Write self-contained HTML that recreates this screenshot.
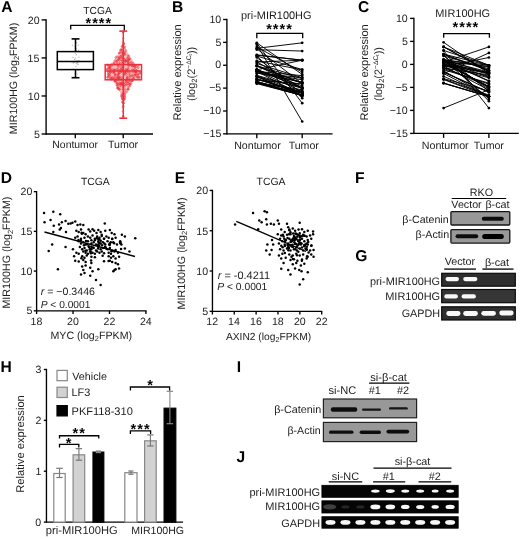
<!DOCTYPE html>
<html><head><meta charset="utf-8"><style>
html,body{margin:0;padding:0;background:#fff;}
svg{display:block;text-rendering:geometricPrecision;font-family:"Liberation Sans",Arial,Helvetica,sans-serif;}
</style></head><body>
<svg width="520" height="539" viewBox="0 0 520 539">
<defs><filter id="b1" x="-30%" y="-200%" width="160%" height="500%"><feGaussianBlur stdDeviation="0.7"/></filter>
<filter id="b2" x="-30%" y="-200%" width="160%" height="500%"><feGaussianBlur stdDeviation="0.45"/></filter></defs>
<rect width="520" height="539" fill="#fff"/>
<text x="1.15" y="12.02" font-size="15.6" font-weight="bold" fill="#000">A</text>
<text x="171.96" y="12.17" font-size="15.6" font-weight="bold" fill="#000">B</text>
<text x="358.01" y="12.02" font-size="15.6" font-weight="bold" fill="#000">C</text>
<line x1="46.10" y1="19.24" x2="46.10" y2="134.65" stroke="#000" stroke-width="1.35" />
<line x1="46.10" y1="134.00" x2="153.00" y2="134.00" stroke="#000" stroke-width="1.35" />
<line x1="41.60" y1="19.89" x2="46.10" y2="19.89" stroke="#000" stroke-width="1.35" />
<text x="27.76" y="24.00" font-size="10.60" fill="#1c1c1c">20</text>
<line x1="41.60" y1="57.93" x2="46.10" y2="57.93" stroke="#000" stroke-width="1.35" />
<text x="27.56" y="62.00" font-size="10.60" fill="#1c1c1c">15</text>
<line x1="41.60" y1="95.97" x2="46.10" y2="95.97" stroke="#000" stroke-width="1.35" />
<text x="27.76" y="100.00" font-size="10.60" fill="#1c1c1c">10</text>
<line x1="41.60" y1="134.00" x2="46.10" y2="134.00" stroke="#000" stroke-width="1.35" />
<text x="33.89" y="138.00" font-size="10.60" fill="#1c1c1c">5</text>
<line x1="75.30" y1="134.00" x2="75.30" y2="138.30" stroke="#000" stroke-width="1.35" />
<line x1="123.20" y1="134.00" x2="123.20" y2="138.30" stroke="#000" stroke-width="1.35" />
<text x="52.37" y="148.00" font-size="10.40" fill="#1c1c1c">Nontumor</text>
<text x="107.94" y="148.00" font-size="10.60" fill="#1c1c1c">Tumor</text>
<text transform="translate(16.67,134.15) rotate(-90)" font-size="10.66" fill="#1c1c1c">MIR100HG (log<tspan font-size="7.46" dy="2.13">2</tspan><tspan dy="-2.13">FPKM)</tspan></text>
<text x="83.29" y="14.00" font-size="10.25" fill="#1c1c1c">TCGA</text>
<text x="98.85" y="27.50" font-size="14.6" font-weight="bold" letter-spacing="1.0" text-anchor="middle" fill="#000">****</text>
<polyline points="70.70,29.60 70.70,25.30 124.30,25.30 124.30,30.80" fill="none" stroke="#000" stroke-width="1.3"/>
<circle cx="74.59" cy="59.35" r="0.55" fill="#999" />
<circle cx="76.23" cy="48.80" r="0.55" fill="#999" />
<circle cx="72.09" cy="62.58" r="0.55" fill="#999" />
<circle cx="77.86" cy="62.60" r="0.55" fill="#999" />
<circle cx="78.97" cy="60.60" r="0.55" fill="#999" />
<circle cx="75.29" cy="53.55" r="0.55" fill="#999" />
<circle cx="76.47" cy="54.84" r="0.55" fill="#999" />
<circle cx="73.05" cy="69.10" r="0.55" fill="#999" />
<circle cx="75.66" cy="72.37" r="0.55" fill="#999" />
<circle cx="77.19" cy="73.98" r="0.55" fill="#999" />
<circle cx="77.31" cy="61.79" r="0.55" fill="#999" />
<circle cx="76.14" cy="63.14" r="0.55" fill="#999" />
<circle cx="78.06" cy="60.94" r="0.55" fill="#999" />
<circle cx="75.31" cy="58.04" r="0.55" fill="#999" />
<circle cx="77.00" cy="63.86" r="0.55" fill="#999" />
<circle cx="78.45" cy="77.71" r="0.55" fill="#999" />
<circle cx="75.11" cy="73.17" r="0.55" fill="#999" />
<circle cx="78.55" cy="50.16" r="0.55" fill="#999" />
<circle cx="72.95" cy="57.22" r="0.55" fill="#999" />
<circle cx="73.52" cy="63.06" r="0.55" fill="#999" />
<circle cx="76.39" cy="50.67" r="0.55" fill="#999" />
<circle cx="74.11" cy="62.32" r="0.55" fill="#999" />
<circle cx="74.46" cy="69.22" r="0.55" fill="#999" />
<circle cx="76.10" cy="60.62" r="0.55" fill="#999" />
<circle cx="76.77" cy="77.28" r="0.55" fill="#999" />
<circle cx="78.50" cy="70.20" r="0.55" fill="#999" />
<circle cx="76.70" cy="42.85" r="0.55" fill="#999" />
<circle cx="73.14" cy="77.71" r="0.55" fill="#999" />
<circle cx="78.33" cy="45.10" r="0.55" fill="#999" />
<circle cx="75.98" cy="77.71" r="0.55" fill="#999" />
<circle cx="77.82" cy="61.63" r="0.55" fill="#999" />
<circle cx="76.01" cy="66.34" r="0.55" fill="#999" />
<circle cx="77.98" cy="60.93" r="0.55" fill="#999" />
<circle cx="78.93" cy="56.99" r="0.55" fill="#999" />
<circle cx="74.87" cy="46.29" r="0.55" fill="#999" />
<circle cx="73.06" cy="51.56" r="0.55" fill="#999" />
<circle cx="78.11" cy="64.47" r="0.55" fill="#999" />
<circle cx="72.31" cy="45.18" r="0.55" fill="#999" />
<circle cx="77.03" cy="62.29" r="0.55" fill="#999" />
<circle cx="74.32" cy="62.04" r="0.55" fill="#999" />
<rect x="57.30" y="51.60" width="36.10" height="18.00" fill="none" stroke="#000" stroke-width="1.5" />
<line x1="57.30" y1="61.40" x2="93.40" y2="61.40" stroke="#000" stroke-width="1.5" />
<line x1="75.50" y1="38.90" x2="75.50" y2="51.60" stroke="#000" stroke-width="1.5" />
<line x1="75.50" y1="69.60" x2="75.50" y2="77.70" stroke="#000" stroke-width="1.5" />
<line x1="71.60" y1="38.90" x2="79.50" y2="38.90" stroke="#000" stroke-width="1.6" />
<line x1="71.60" y1="77.70" x2="79.50" y2="77.70" stroke="#000" stroke-width="1.6" />
<polygon points="123.02,31.20 123.01,31.70 123.00,32.20 122.99,32.70 122.97,33.20 122.96,33.70 122.95,34.20 122.93,34.70 122.92,35.20 122.91,35.70 122.90,36.20 122.88,36.70 122.87,37.20 122.86,37.70 122.85,38.20 122.83,38.70 122.82,39.20 122.81,39.70 122.79,40.20 122.78,40.70 122.77,41.20 122.76,41.70 122.71,42.20 122.62,42.70 122.52,43.20 122.43,43.70 122.33,44.20 122.24,44.70 122.14,45.20 121.99,45.70 121.80,46.20 121.61,46.70 121.42,47.20 121.23,47.70 121.03,48.20 120.84,48.70 120.65,49.20 120.46,49.70 120.27,50.20 120.08,50.70 119.75,51.20 119.43,51.70 119.10,52.20 118.77,52.70 118.44,53.20 118.12,53.70 117.79,54.20 117.46,54.70 117.13,55.20 116.81,55.70 116.47,56.20 116.12,56.70 115.78,57.20 115.43,57.70 115.09,58.20 114.74,58.70 114.40,59.20 114.05,59.70 113.71,60.20 113.42,60.70 113.15,61.20 112.87,61.70 112.60,62.20 112.33,62.70 112.05,63.20 111.78,63.70 111.50,64.20 109.68,64.70 107.20,65.20 107.20,65.70 107.20,66.20 107.20,66.70 107.20,67.20 107.20,67.70 107.20,68.20 107.20,68.70 107.20,69.20 107.20,69.70 107.20,70.20 107.20,70.70 107.20,71.20 107.20,71.70 107.20,72.20 107.20,72.70 107.20,73.20 107.20,73.70 107.20,74.20 107.20,74.70 107.20,75.20 107.20,75.70 107.20,76.20 107.20,76.70 107.20,77.20 107.20,77.70 107.20,78.20 107.20,78.70 107.20,79.20 109.59,79.70 113.32,80.20 113.66,80.70 114.01,81.20 114.35,81.70 114.65,82.20 114.86,82.70 115.08,83.20 115.30,83.70 115.51,84.20 115.73,84.70 115.95,85.20 116.17,85.70 116.38,86.20 116.60,86.70 116.82,87.20 117.11,87.70 117.42,88.20 117.73,88.70 118.04,89.20 118.35,89.70 118.66,90.20 118.97,90.70 119.28,91.20 119.58,91.70 119.89,92.20 120.13,92.70 120.26,93.20 120.39,93.70 120.52,94.20 120.65,94.70 120.78,95.20 120.91,95.70 121.04,96.20 121.17,96.70 121.30,97.20 121.43,97.70 121.54,98.20 121.64,98.70 121.74,99.20 121.84,99.70 121.94,100.20 122.04,100.70 122.13,101.20 122.19,101.70 122.26,102.20 122.32,102.70 122.39,103.20 122.45,103.70 122.52,104.20 122.58,104.70 122.64,105.20 122.71,105.70 122.75,106.20 122.76,106.70 122.78,107.20 122.79,107.70 122.80,108.20 122.81,108.70 122.82,109.20 122.83,109.70 122.84,110.20 122.86,110.70 122.87,111.20 122.88,111.70 122.89,112.20 122.90,112.70 122.91,113.20 122.93,113.70 122.94,114.20 122.95,114.70 122.96,115.20 122.97,115.70 122.98,116.20 122.99,116.70 123.01,117.20 123.02,117.70 123.02,118.20 123.58,118.20 123.58,117.70 123.59,117.20 123.61,116.70 123.62,116.20 123.63,115.70 123.64,115.20 123.65,114.70 123.66,114.20 123.67,113.70 123.69,113.20 123.70,112.70 123.71,112.20 123.72,111.70 123.73,111.20 123.74,110.70 123.76,110.20 123.77,109.70 123.78,109.20 123.79,108.70 123.80,108.20 123.81,107.70 123.82,107.20 123.84,106.70 123.85,106.20 123.89,105.70 123.96,105.20 124.02,104.70 124.08,104.20 124.15,103.70 124.21,103.20 124.28,102.70 124.34,102.20 124.41,101.70 124.47,101.20 124.56,100.70 124.66,100.20 124.76,99.70 124.86,99.20 124.96,98.70 125.06,98.20 125.17,97.70 125.30,97.20 125.43,96.70 125.56,96.20 125.69,95.70 125.82,95.20 125.95,94.70 126.08,94.20 126.21,93.70 126.34,93.20 126.47,92.70 126.71,92.20 127.02,91.70 127.32,91.20 127.63,90.70 127.94,90.20 128.25,89.70 128.56,89.20 128.87,88.70 129.18,88.20 129.49,87.70 129.78,87.20 130.00,86.70 130.22,86.20 130.43,85.70 130.65,85.20 130.87,84.70 131.09,84.20 131.30,83.70 131.52,83.20 131.74,82.70 131.95,82.20 132.25,81.70 132.59,81.20 132.94,80.70 133.28,80.20 137.01,79.70 139.40,79.20 139.40,78.70 139.40,78.20 139.40,77.70 139.40,77.20 139.40,76.70 139.40,76.20 139.40,75.70 139.40,75.20 139.40,74.70 139.40,74.20 139.40,73.70 139.40,73.20 139.40,72.70 139.40,72.20 139.40,71.70 139.40,71.20 139.40,70.70 139.40,70.20 139.40,69.70 139.40,69.20 139.40,68.70 139.40,68.20 139.40,67.70 139.40,67.20 139.40,66.70 139.40,66.20 139.40,65.70 139.40,65.20 136.92,64.70 135.10,64.20 134.82,63.70 134.55,63.20 134.27,62.70 134.00,62.20 133.73,61.70 133.45,61.20 133.18,60.70 132.89,60.20 132.55,59.70 132.20,59.20 131.86,58.70 131.51,58.20 131.17,57.70 130.82,57.20 130.48,56.70 130.13,56.20 129.79,55.70 129.47,55.20 129.14,54.70 128.81,54.20 128.48,53.70 128.16,53.20 127.83,52.70 127.50,52.20 127.17,51.70 126.85,51.20 126.52,50.70 126.33,50.20 126.14,49.70 125.95,49.20 125.76,48.70 125.57,48.20 125.37,47.70 125.18,47.20 124.99,46.70 124.80,46.20 124.61,45.70 124.46,45.20 124.36,44.70 124.27,44.20 124.17,43.70 124.08,43.20 123.98,42.70 123.89,42.20 123.84,41.70 123.83,41.20 123.82,40.70 123.81,40.20 123.79,39.70 123.78,39.20 123.77,38.70 123.75,38.20 123.74,37.70 123.73,37.20 123.72,36.70 123.70,36.20 123.69,35.70 123.68,35.20 123.67,34.70 123.65,34.20 123.64,33.70 123.63,33.20 123.61,32.70 123.60,32.20 123.59,31.70 123.58,31.20" fill="#f7bcbc" stroke="none"/>
<circle cx="122.44" cy="51.92" r="0.8" fill="none" stroke="#e8323c" stroke-width="0.5"/>
<circle cx="123.08" cy="44.91" r="0.8" fill="none" stroke="#e8323c" stroke-width="0.5"/>
<circle cx="112.42" cy="77.92" r="0.8" fill="none" stroke="#e8323c" stroke-width="0.5"/>
<circle cx="121.01" cy="67.31" r="0.8" fill="none" stroke="#e8323c" stroke-width="0.5"/>
<circle cx="122.27" cy="101.79" r="0.8" fill="none" stroke="#e8323c" stroke-width="0.5"/>
<circle cx="123.81" cy="85.68" r="0.8" fill="none" stroke="#e8323c" stroke-width="0.5"/>
<circle cx="139.83" cy="72.26" r="0.8" fill="none" stroke="#e8323c" stroke-width="0.5"/>
<circle cx="120.66" cy="84.73" r="0.8" fill="none" stroke="#e8323c" stroke-width="0.5"/>
<circle cx="122.46" cy="56.88" r="0.8" fill="none" stroke="#e8323c" stroke-width="0.5"/>
<circle cx="114.09" cy="62.88" r="0.8" fill="none" stroke="#e8323c" stroke-width="0.5"/>
<circle cx="120.77" cy="49.48" r="0.8" fill="none" stroke="#e8323c" stroke-width="0.5"/>
<circle cx="123.28" cy="44.44" r="0.8" fill="none" stroke="#e8323c" stroke-width="0.5"/>
<circle cx="120.87" cy="52.47" r="0.8" fill="none" stroke="#e8323c" stroke-width="0.5"/>
<circle cx="129.48" cy="77.17" r="0.8" fill="none" stroke="#e8323c" stroke-width="0.5"/>
<circle cx="127.58" cy="89.31" r="0.8" fill="none" stroke="#e8323c" stroke-width="0.5"/>
<circle cx="119.69" cy="89.21" r="0.8" fill="none" stroke="#e8323c" stroke-width="0.5"/>
<circle cx="126.01" cy="50.40" r="0.8" fill="none" stroke="#e8323c" stroke-width="0.5"/>
<circle cx="107.81" cy="77.03" r="0.8" fill="none" stroke="#e8323c" stroke-width="0.5"/>
<circle cx="132.86" cy="78.50" r="0.8" fill="none" stroke="#e8323c" stroke-width="0.5"/>
<circle cx="123.07" cy="58.42" r="0.8" fill="none" stroke="#e8323c" stroke-width="0.5"/>
<circle cx="124.61" cy="98.67" r="0.8" fill="none" stroke="#e8323c" stroke-width="0.5"/>
<circle cx="130.47" cy="78.64" r="0.8" fill="none" stroke="#e8323c" stroke-width="0.5"/>
<circle cx="114.84" cy="73.39" r="0.8" fill="none" stroke="#e8323c" stroke-width="0.5"/>
<circle cx="129.93" cy="84.22" r="0.8" fill="none" stroke="#e8323c" stroke-width="0.5"/>
<circle cx="132.31" cy="69.74" r="0.8" fill="none" stroke="#e8323c" stroke-width="0.5"/>
<circle cx="115.64" cy="57.50" r="0.8" fill="none" stroke="#e8323c" stroke-width="0.5"/>
<circle cx="136.50" cy="66.63" r="0.8" fill="none" stroke="#e8323c" stroke-width="0.5"/>
<circle cx="127.12" cy="78.23" r="0.8" fill="none" stroke="#e8323c" stroke-width="0.5"/>
<circle cx="116.82" cy="85.41" r="0.8" fill="none" stroke="#e8323c" stroke-width="0.5"/>
<circle cx="119.09" cy="58.51" r="0.8" fill="none" stroke="#e8323c" stroke-width="0.5"/>
<circle cx="109.89" cy="76.86" r="0.8" fill="none" stroke="#e8323c" stroke-width="0.5"/>
<circle cx="111.80" cy="79.28" r="0.8" fill="none" stroke="#e8323c" stroke-width="0.5"/>
<circle cx="135.32" cy="65.35" r="0.8" fill="none" stroke="#e8323c" stroke-width="0.5"/>
<circle cx="121.81" cy="59.91" r="0.8" fill="none" stroke="#e8323c" stroke-width="0.5"/>
<circle cx="125.52" cy="83.41" r="0.8" fill="none" stroke="#e8323c" stroke-width="0.5"/>
<circle cx="127.98" cy="62.04" r="0.8" fill="none" stroke="#e8323c" stroke-width="0.5"/>
<circle cx="126.55" cy="74.58" r="0.8" fill="none" stroke="#e8323c" stroke-width="0.5"/>
<circle cx="119.05" cy="53.11" r="0.8" fill="none" stroke="#e8323c" stroke-width="0.5"/>
<circle cx="126.93" cy="91.77" r="0.8" fill="none" stroke="#e8323c" stroke-width="0.5"/>
<circle cx="107.81" cy="65.10" r="0.8" fill="none" stroke="#e8323c" stroke-width="0.5"/>
<circle cx="107.27" cy="69.34" r="0.8" fill="none" stroke="#e8323c" stroke-width="0.5"/>
<circle cx="134.67" cy="66.72" r="0.8" fill="none" stroke="#e8323c" stroke-width="0.5"/>
<circle cx="118.00" cy="74.68" r="0.8" fill="none" stroke="#e8323c" stroke-width="0.5"/>
<circle cx="124.91" cy="93.63" r="0.8" fill="none" stroke="#e8323c" stroke-width="0.5"/>
<circle cx="118.72" cy="78.74" r="0.8" fill="none" stroke="#e8323c" stroke-width="0.5"/>
<circle cx="121.85" cy="97.11" r="0.8" fill="none" stroke="#e8323c" stroke-width="0.5"/>
<circle cx="125.70" cy="81.14" r="0.8" fill="none" stroke="#e8323c" stroke-width="0.5"/>
<circle cx="127.68" cy="61.26" r="0.8" fill="none" stroke="#e8323c" stroke-width="0.5"/>
<circle cx="121.44" cy="49.89" r="0.8" fill="none" stroke="#e8323c" stroke-width="0.5"/>
<circle cx="121.52" cy="71.61" r="0.8" fill="none" stroke="#e8323c" stroke-width="0.5"/>
<circle cx="123.77" cy="43.29" r="0.8" fill="none" stroke="#e8323c" stroke-width="0.5"/>
<circle cx="127.13" cy="77.08" r="0.8" fill="none" stroke="#e8323c" stroke-width="0.5"/>
<circle cx="122.94" cy="94.18" r="0.8" fill="none" stroke="#e8323c" stroke-width="0.5"/>
<circle cx="118.84" cy="78.00" r="0.8" fill="none" stroke="#e8323c" stroke-width="0.5"/>
<circle cx="136.04" cy="72.26" r="0.8" fill="none" stroke="#e8323c" stroke-width="0.5"/>
<circle cx="128.75" cy="83.13" r="0.8" fill="none" stroke="#e8323c" stroke-width="0.5"/>
<circle cx="123.02" cy="54.26" r="0.8" fill="none" stroke="#e8323c" stroke-width="0.5"/>
<circle cx="129.65" cy="72.37" r="0.8" fill="none" stroke="#e8323c" stroke-width="0.5"/>
<circle cx="123.01" cy="117.88" r="0.8" fill="none" stroke="#e8323c" stroke-width="0.5"/>
<circle cx="127.97" cy="68.18" r="0.8" fill="none" stroke="#e8323c" stroke-width="0.5"/>
<circle cx="129.61" cy="75.67" r="0.8" fill="none" stroke="#e8323c" stroke-width="0.5"/>
<circle cx="125.10" cy="60.86" r="0.8" fill="none" stroke="#e8323c" stroke-width="0.5"/>
<circle cx="116.79" cy="78.66" r="0.8" fill="none" stroke="#e8323c" stroke-width="0.5"/>
<circle cx="114.91" cy="76.89" r="0.8" fill="none" stroke="#e8323c" stroke-width="0.5"/>
<circle cx="123.04" cy="85.55" r="0.8" fill="none" stroke="#e8323c" stroke-width="0.5"/>
<circle cx="119.64" cy="60.28" r="0.8" fill="none" stroke="#e8323c" stroke-width="0.5"/>
<circle cx="118.67" cy="57.46" r="0.8" fill="none" stroke="#e8323c" stroke-width="0.5"/>
<circle cx="118.93" cy="73.37" r="0.8" fill="none" stroke="#e8323c" stroke-width="0.5"/>
<circle cx="115.33" cy="79.58" r="0.8" fill="none" stroke="#e8323c" stroke-width="0.5"/>
<circle cx="127.12" cy="61.18" r="0.8" fill="none" stroke="#e8323c" stroke-width="0.5"/>
<circle cx="119.56" cy="65.44" r="0.8" fill="none" stroke="#e8323c" stroke-width="0.5"/>
<circle cx="122.04" cy="49.73" r="0.8" fill="none" stroke="#e8323c" stroke-width="0.5"/>
<circle cx="123.12" cy="52.09" r="0.8" fill="none" stroke="#e8323c" stroke-width="0.5"/>
<circle cx="134.75" cy="68.00" r="0.8" fill="none" stroke="#e8323c" stroke-width="0.5"/>
<circle cx="125.52" cy="85.27" r="0.8" fill="none" stroke="#e8323c" stroke-width="0.5"/>
<circle cx="124.90" cy="46.73" r="0.8" fill="none" stroke="#e8323c" stroke-width="0.5"/>
<circle cx="114.78" cy="81.18" r="0.8" fill="none" stroke="#e8323c" stroke-width="0.5"/>
<circle cx="122.26" cy="46.56" r="0.8" fill="none" stroke="#e8323c" stroke-width="0.5"/>
<circle cx="119.80" cy="86.43" r="0.8" fill="none" stroke="#e8323c" stroke-width="0.5"/>
<circle cx="109.01" cy="73.84" r="0.8" fill="none" stroke="#e8323c" stroke-width="0.5"/>
<circle cx="126.14" cy="80.42" r="0.8" fill="none" stroke="#e8323c" stroke-width="0.5"/>
<circle cx="122.05" cy="54.87" r="0.8" fill="none" stroke="#e8323c" stroke-width="0.5"/>
<circle cx="128.31" cy="65.27" r="0.8" fill="none" stroke="#e8323c" stroke-width="0.5"/>
<circle cx="129.37" cy="84.53" r="0.8" fill="none" stroke="#e8323c" stroke-width="0.5"/>
<circle cx="116.86" cy="78.27" r="0.8" fill="none" stroke="#e8323c" stroke-width="0.5"/>
<circle cx="123.16" cy="83.29" r="0.8" fill="none" stroke="#e8323c" stroke-width="0.5"/>
<circle cx="117.51" cy="60.37" r="0.8" fill="none" stroke="#e8323c" stroke-width="0.5"/>
<circle cx="112.38" cy="77.31" r="0.8" fill="none" stroke="#e8323c" stroke-width="0.5"/>
<circle cx="125.05" cy="54.00" r="0.8" fill="none" stroke="#e8323c" stroke-width="0.5"/>
<circle cx="126.99" cy="78.68" r="0.8" fill="none" stroke="#e8323c" stroke-width="0.5"/>
<circle cx="124.63" cy="91.67" r="0.8" fill="none" stroke="#e8323c" stroke-width="0.5"/>
<circle cx="118.26" cy="67.74" r="0.8" fill="none" stroke="#e8323c" stroke-width="0.5"/>
<circle cx="122.35" cy="65.08" r="0.8" fill="none" stroke="#e8323c" stroke-width="0.5"/>
<circle cx="133.04" cy="69.96" r="0.8" fill="none" stroke="#e8323c" stroke-width="0.5"/>
<circle cx="123.65" cy="103.04" r="0.8" fill="none" stroke="#e8323c" stroke-width="0.5"/>
<circle cx="123.24" cy="116.16" r="0.8" fill="none" stroke="#e8323c" stroke-width="0.5"/>
<circle cx="122.98" cy="111.44" r="0.8" fill="none" stroke="#e8323c" stroke-width="0.5"/>
<circle cx="122.80" cy="46.29" r="0.8" fill="none" stroke="#e8323c" stroke-width="0.5"/>
<circle cx="110.05" cy="68.47" r="0.8" fill="none" stroke="#e8323c" stroke-width="0.5"/>
<circle cx="130.24" cy="81.16" r="0.8" fill="none" stroke="#e8323c" stroke-width="0.5"/>
<circle cx="118.31" cy="76.02" r="0.8" fill="none" stroke="#e8323c" stroke-width="0.5"/>
<circle cx="128.26" cy="69.63" r="0.8" fill="none" stroke="#e8323c" stroke-width="0.5"/>
<circle cx="131.42" cy="64.91" r="0.8" fill="none" stroke="#e8323c" stroke-width="0.5"/>
<circle cx="125.73" cy="60.44" r="0.8" fill="none" stroke="#e8323c" stroke-width="0.5"/>
<circle cx="125.64" cy="61.53" r="0.8" fill="none" stroke="#e8323c" stroke-width="0.5"/>
<circle cx="123.46" cy="70.31" r="0.8" fill="none" stroke="#e8323c" stroke-width="0.5"/>
<circle cx="121.63" cy="83.90" r="0.8" fill="none" stroke="#e8323c" stroke-width="0.5"/>
<circle cx="118.20" cy="71.99" r="0.8" fill="none" stroke="#e8323c" stroke-width="0.5"/>
<circle cx="124.61" cy="62.93" r="0.8" fill="none" stroke="#e8323c" stroke-width="0.5"/>
<circle cx="121.52" cy="79.63" r="0.8" fill="none" stroke="#e8323c" stroke-width="0.5"/>
<circle cx="110.99" cy="69.46" r="0.8" fill="none" stroke="#e8323c" stroke-width="0.5"/>
<circle cx="133.10" cy="78.49" r="0.8" fill="none" stroke="#e8323c" stroke-width="0.5"/>
<circle cx="123.31" cy="105.70" r="0.8" fill="none" stroke="#e8323c" stroke-width="0.5"/>
<circle cx="136.51" cy="72.01" r="0.8" fill="none" stroke="#e8323c" stroke-width="0.5"/>
<circle cx="117.24" cy="88.13" r="0.8" fill="none" stroke="#e8323c" stroke-width="0.5"/>
<circle cx="123.81" cy="87.50" r="0.8" fill="none" stroke="#e8323c" stroke-width="0.5"/>
<circle cx="123.04" cy="99.56" r="0.8" fill="none" stroke="#e8323c" stroke-width="0.5"/>
<circle cx="134.81" cy="75.25" r="0.8" fill="none" stroke="#e8323c" stroke-width="0.5"/>
<circle cx="123.91" cy="73.91" r="0.8" fill="none" stroke="#e8323c" stroke-width="0.5"/>
<circle cx="135.40" cy="65.71" r="0.8" fill="none" stroke="#e8323c" stroke-width="0.5"/>
<circle cx="110.54" cy="70.13" r="0.8" fill="none" stroke="#e8323c" stroke-width="0.5"/>
<circle cx="125.63" cy="73.05" r="0.8" fill="none" stroke="#e8323c" stroke-width="0.5"/>
<circle cx="129.44" cy="80.02" r="0.8" fill="none" stroke="#e8323c" stroke-width="0.5"/>
<circle cx="135.51" cy="70.79" r="0.8" fill="none" stroke="#e8323c" stroke-width="0.5"/>
<circle cx="118.24" cy="77.09" r="0.8" fill="none" stroke="#e8323c" stroke-width="0.5"/>
<circle cx="118.95" cy="58.85" r="0.8" fill="none" stroke="#e8323c" stroke-width="0.5"/>
<circle cx="121.18" cy="69.01" r="0.8" fill="none" stroke="#e8323c" stroke-width="0.5"/>
<circle cx="110.98" cy="77.65" r="0.8" fill="none" stroke="#e8323c" stroke-width="0.5"/>
<circle cx="121.04" cy="83.96" r="0.8" fill="none" stroke="#e8323c" stroke-width="0.5"/>
<circle cx="114.39" cy="78.74" r="0.8" fill="none" stroke="#e8323c" stroke-width="0.5"/>
<circle cx="124.57" cy="54.60" r="0.8" fill="none" stroke="#e8323c" stroke-width="0.5"/>
<circle cx="122.51" cy="102.49" r="0.8" fill="none" stroke="#e8323c" stroke-width="0.5"/>
<circle cx="125.96" cy="71.36" r="0.8" fill="none" stroke="#e8323c" stroke-width="0.5"/>
<circle cx="114.10" cy="72.07" r="0.8" fill="none" stroke="#e8323c" stroke-width="0.5"/>
<circle cx="121.88" cy="46.42" r="0.8" fill="none" stroke="#e8323c" stroke-width="0.5"/>
<circle cx="131.95" cy="75.70" r="0.8" fill="none" stroke="#e8323c" stroke-width="0.5"/>
<circle cx="132.84" cy="72.57" r="0.8" fill="none" stroke="#e8323c" stroke-width="0.5"/>
<circle cx="113.91" cy="70.02" r="0.8" fill="none" stroke="#e8323c" stroke-width="0.5"/>
<circle cx="131.59" cy="65.58" r="0.8" fill="none" stroke="#e8323c" stroke-width="0.5"/>
<circle cx="132.73" cy="80.70" r="0.8" fill="none" stroke="#e8323c" stroke-width="0.5"/>
<circle cx="137.85" cy="75.10" r="0.8" fill="none" stroke="#e8323c" stroke-width="0.5"/>
<circle cx="138.34" cy="67.60" r="0.8" fill="none" stroke="#e8323c" stroke-width="0.5"/>
<circle cx="122.73" cy="89.17" r="0.8" fill="none" stroke="#e8323c" stroke-width="0.5"/>
<circle cx="118.72" cy="77.18" r="0.8" fill="none" stroke="#e8323c" stroke-width="0.5"/>
<circle cx="139.72" cy="77.24" r="0.8" fill="none" stroke="#e8323c" stroke-width="0.5"/>
<circle cx="134.17" cy="76.98" r="0.8" fill="none" stroke="#e8323c" stroke-width="0.5"/>
<circle cx="139.90" cy="72.98" r="0.8" fill="none" stroke="#e8323c" stroke-width="0.5"/>
<circle cx="122.93" cy="41.84" r="0.8" fill="none" stroke="#e8323c" stroke-width="0.5"/>
<circle cx="116.70" cy="56.69" r="0.8" fill="none" stroke="#e8323c" stroke-width="0.5"/>
<circle cx="114.78" cy="74.91" r="0.8" fill="none" stroke="#e8323c" stroke-width="0.5"/>
<circle cx="123.17" cy="70.92" r="0.8" fill="none" stroke="#e8323c" stroke-width="0.5"/>
<circle cx="130.74" cy="63.28" r="0.8" fill="none" stroke="#e8323c" stroke-width="0.5"/>
<circle cx="123.79" cy="98.84" r="0.8" fill="none" stroke="#e8323c" stroke-width="0.5"/>
<circle cx="138.00" cy="73.89" r="0.8" fill="none" stroke="#e8323c" stroke-width="0.5"/>
<circle cx="128.68" cy="59.45" r="0.8" fill="none" stroke="#e8323c" stroke-width="0.5"/>
<circle cx="125.08" cy="97.22" r="0.8" fill="none" stroke="#e8323c" stroke-width="0.5"/>
<circle cx="135.96" cy="74.52" r="0.8" fill="none" stroke="#e8323c" stroke-width="0.5"/>
<circle cx="121.07" cy="71.40" r="0.8" fill="none" stroke="#e8323c" stroke-width="0.5"/>
<circle cx="122.45" cy="63.22" r="0.8" fill="none" stroke="#e8323c" stroke-width="0.5"/>
<circle cx="129.38" cy="58.85" r="0.8" fill="none" stroke="#e8323c" stroke-width="0.5"/>
<circle cx="128.81" cy="56.03" r="0.8" fill="none" stroke="#e8323c" stroke-width="0.5"/>
<circle cx="124.51" cy="84.90" r="0.8" fill="none" stroke="#e8323c" stroke-width="0.5"/>
<circle cx="118.56" cy="88.58" r="0.8" fill="none" stroke="#e8323c" stroke-width="0.5"/>
<circle cx="117.99" cy="83.82" r="0.8" fill="none" stroke="#e8323c" stroke-width="0.5"/>
<circle cx="110.59" cy="72.06" r="0.8" fill="none" stroke="#e8323c" stroke-width="0.5"/>
<circle cx="133.86" cy="66.11" r="0.8" fill="none" stroke="#e8323c" stroke-width="0.5"/>
<circle cx="138.98" cy="78.80" r="0.8" fill="none" stroke="#e8323c" stroke-width="0.5"/>
<circle cx="122.60" cy="77.99" r="0.8" fill="none" stroke="#e8323c" stroke-width="0.5"/>
<circle cx="122.09" cy="98.91" r="0.8" fill="none" stroke="#e8323c" stroke-width="0.5"/>
<circle cx="107.37" cy="77.39" r="0.8" fill="none" stroke="#e8323c" stroke-width="0.5"/>
<circle cx="109.28" cy="67.46" r="0.8" fill="none" stroke="#e8323c" stroke-width="0.5"/>
<circle cx="117.98" cy="88.13" r="0.8" fill="none" stroke="#e8323c" stroke-width="0.5"/>
<circle cx="110.17" cy="79.05" r="0.8" fill="none" stroke="#e8323c" stroke-width="0.5"/>
<circle cx="118.31" cy="89.13" r="0.8" fill="none" stroke="#e8323c" stroke-width="0.5"/>
<circle cx="125.06" cy="95.82" r="0.8" fill="none" stroke="#e8323c" stroke-width="0.5"/>
<circle cx="113.73" cy="72.38" r="0.8" fill="none" stroke="#e8323c" stroke-width="0.5"/>
<circle cx="114.39" cy="79.72" r="0.8" fill="none" stroke="#e8323c" stroke-width="0.5"/>
<circle cx="127.39" cy="58.20" r="0.8" fill="none" stroke="#e8323c" stroke-width="0.5"/>
<circle cx="128.45" cy="81.59" r="0.8" fill="none" stroke="#e8323c" stroke-width="0.5"/>
<circle cx="122.47" cy="69.84" r="0.8" fill="none" stroke="#e8323c" stroke-width="0.5"/>
<circle cx="119.65" cy="62.74" r="0.8" fill="none" stroke="#e8323c" stroke-width="0.5"/>
<circle cx="127.59" cy="77.40" r="0.8" fill="none" stroke="#e8323c" stroke-width="0.5"/>
<circle cx="131.37" cy="62.32" r="0.8" fill="none" stroke="#e8323c" stroke-width="0.5"/>
<circle cx="126.69" cy="70.01" r="0.8" fill="none" stroke="#e8323c" stroke-width="0.5"/>
<circle cx="118.78" cy="79.55" r="0.8" fill="none" stroke="#e8323c" stroke-width="0.5"/>
<circle cx="132.93" cy="65.56" r="0.8" fill="none" stroke="#e8323c" stroke-width="0.5"/>
<circle cx="135.03" cy="74.64" r="0.8" fill="none" stroke="#e8323c" stroke-width="0.5"/>
<circle cx="123.21" cy="84.86" r="0.8" fill="none" stroke="#e8323c" stroke-width="0.5"/>
<circle cx="123.09" cy="67.67" r="0.8" fill="none" stroke="#e8323c" stroke-width="0.5"/>
<circle cx="127.18" cy="69.57" r="0.8" fill="none" stroke="#e8323c" stroke-width="0.5"/>
<circle cx="124.85" cy="59.47" r="0.8" fill="none" stroke="#e8323c" stroke-width="0.5"/>
<circle cx="131.93" cy="80.80" r="0.8" fill="none" stroke="#e8323c" stroke-width="0.5"/>
<circle cx="127.40" cy="81.78" r="0.8" fill="none" stroke="#e8323c" stroke-width="0.5"/>
<circle cx="108.93" cy="68.42" r="0.8" fill="none" stroke="#e8323c" stroke-width="0.5"/>
<circle cx="108.11" cy="74.22" r="0.8" fill="none" stroke="#e8323c" stroke-width="0.5"/>
<circle cx="130.26" cy="85.86" r="0.8" fill="none" stroke="#e8323c" stroke-width="0.5"/>
<circle cx="123.39" cy="116.13" r="0.8" fill="none" stroke="#e8323c" stroke-width="0.5"/>
<circle cx="108.61" cy="74.83" r="0.8" fill="none" stroke="#e8323c" stroke-width="0.5"/>
<circle cx="128.04" cy="72.20" r="0.8" fill="none" stroke="#e8323c" stroke-width="0.5"/>
<circle cx="124.11" cy="94.10" r="0.8" fill="none" stroke="#e8323c" stroke-width="0.5"/>
<circle cx="122.37" cy="97.66" r="0.8" fill="none" stroke="#e8323c" stroke-width="0.5"/>
<circle cx="119.70" cy="83.75" r="0.8" fill="none" stroke="#e8323c" stroke-width="0.5"/>
<circle cx="133.50" cy="78.44" r="0.8" fill="none" stroke="#e8323c" stroke-width="0.5"/>
<circle cx="128.49" cy="87.01" r="0.8" fill="none" stroke="#e8323c" stroke-width="0.5"/>
<circle cx="122.38" cy="82.06" r="0.8" fill="none" stroke="#e8323c" stroke-width="0.5"/>
<circle cx="139.05" cy="65.04" r="0.8" fill="none" stroke="#e8323c" stroke-width="0.5"/>
<circle cx="125.01" cy="51.93" r="0.8" fill="none" stroke="#e8323c" stroke-width="0.5"/>
<circle cx="115.65" cy="81.04" r="0.8" fill="none" stroke="#e8323c" stroke-width="0.5"/>
<circle cx="114.83" cy="69.51" r="0.8" fill="none" stroke="#e8323c" stroke-width="0.5"/>
<circle cx="128.07" cy="63.93" r="0.8" fill="none" stroke="#e8323c" stroke-width="0.5"/>
<circle cx="114.61" cy="81.40" r="0.8" fill="none" stroke="#e8323c" stroke-width="0.5"/>
<circle cx="127.89" cy="57.86" r="0.8" fill="none" stroke="#e8323c" stroke-width="0.5"/>
<circle cx="124.33" cy="48.09" r="0.8" fill="none" stroke="#e8323c" stroke-width="0.5"/>
<circle cx="113.75" cy="77.95" r="0.8" fill="none" stroke="#e8323c" stroke-width="0.5"/>
<circle cx="113.99" cy="63.61" r="0.8" fill="none" stroke="#e8323c" stroke-width="0.5"/>
<circle cx="106.95" cy="68.78" r="0.8" fill="none" stroke="#e8323c" stroke-width="0.5"/>
<circle cx="122.83" cy="86.10" r="0.8" fill="none" stroke="#e8323c" stroke-width="0.5"/>
<circle cx="136.91" cy="76.67" r="0.8" fill="none" stroke="#e8323c" stroke-width="0.5"/>
<circle cx="117.77" cy="65.03" r="0.8" fill="none" stroke="#e8323c" stroke-width="0.5"/>
<circle cx="124.11" cy="43.59" r="0.8" fill="none" stroke="#e8323c" stroke-width="0.5"/>
<circle cx="133.21" cy="63.29" r="0.8" fill="none" stroke="#e8323c" stroke-width="0.5"/>
<circle cx="127.25" cy="71.49" r="0.8" fill="none" stroke="#e8323c" stroke-width="0.5"/>
<circle cx="118.15" cy="59.84" r="0.8" fill="none" stroke="#e8323c" stroke-width="0.5"/>
<circle cx="109.83" cy="67.05" r="0.8" fill="none" stroke="#e8323c" stroke-width="0.5"/>
<circle cx="108.48" cy="76.20" r="0.8" fill="none" stroke="#e8323c" stroke-width="0.5"/>
<circle cx="129.65" cy="58.76" r="0.8" fill="none" stroke="#e8323c" stroke-width="0.5"/>
<circle cx="126.91" cy="84.73" r="0.8" fill="none" stroke="#e8323c" stroke-width="0.5"/>
<circle cx="124.70" cy="72.90" r="0.8" fill="none" stroke="#e8323c" stroke-width="0.5"/>
<circle cx="122.68" cy="92.99" r="0.8" fill="none" stroke="#e8323c" stroke-width="0.5"/>
<circle cx="125.51" cy="69.31" r="0.8" fill="none" stroke="#e8323c" stroke-width="0.5"/>
<circle cx="116.76" cy="69.36" r="0.8" fill="none" stroke="#e8323c" stroke-width="0.5"/>
<circle cx="116.47" cy="61.99" r="0.8" fill="none" stroke="#e8323c" stroke-width="0.5"/>
<circle cx="131.93" cy="81.25" r="0.8" fill="none" stroke="#e8323c" stroke-width="0.5"/>
<circle cx="137.57" cy="77.06" r="0.8" fill="none" stroke="#e8323c" stroke-width="0.5"/>
<circle cx="116.56" cy="82.95" r="0.8" fill="none" stroke="#e8323c" stroke-width="0.5"/>
<circle cx="121.31" cy="82.83" r="0.8" fill="none" stroke="#e8323c" stroke-width="0.5"/>
<circle cx="122.27" cy="60.96" r="0.8" fill="none" stroke="#e8323c" stroke-width="0.5"/>
<circle cx="110.19" cy="72.59" r="0.8" fill="none" stroke="#e8323c" stroke-width="0.5"/>
<circle cx="124.84" cy="71.65" r="0.8" fill="none" stroke="#e8323c" stroke-width="0.5"/>
<circle cx="125.47" cy="73.13" r="0.8" fill="none" stroke="#e8323c" stroke-width="0.5"/>
<circle cx="128.78" cy="64.21" r="0.8" fill="none" stroke="#e8323c" stroke-width="0.5"/>
<circle cx="114.96" cy="70.29" r="0.8" fill="none" stroke="#e8323c" stroke-width="0.5"/>
<circle cx="121.70" cy="84.65" r="0.8" fill="none" stroke="#e8323c" stroke-width="0.5"/>
<circle cx="125.92" cy="60.89" r="0.8" fill="none" stroke="#e8323c" stroke-width="0.5"/>
<circle cx="136.63" cy="70.42" r="0.8" fill="none" stroke="#e8323c" stroke-width="0.5"/>
<circle cx="123.78" cy="58.81" r="0.8" fill="none" stroke="#e8323c" stroke-width="0.5"/>
<circle cx="123.41" cy="95.53" r="0.8" fill="none" stroke="#e8323c" stroke-width="0.5"/>
<circle cx="121.57" cy="94.87" r="0.8" fill="none" stroke="#e8323c" stroke-width="0.5"/>
<circle cx="129.40" cy="74.08" r="0.8" fill="none" stroke="#e8323c" stroke-width="0.5"/>
<circle cx="124.33" cy="75.10" r="0.8" fill="none" stroke="#e8323c" stroke-width="0.5"/>
<circle cx="119.13" cy="57.60" r="0.8" fill="none" stroke="#e8323c" stroke-width="0.5"/>
<circle cx="119.53" cy="70.51" r="0.8" fill="none" stroke="#e8323c" stroke-width="0.5"/>
<circle cx="131.04" cy="75.77" r="0.8" fill="none" stroke="#e8323c" stroke-width="0.5"/>
<circle cx="120.44" cy="56.30" r="0.8" fill="none" stroke="#e8323c" stroke-width="0.5"/>
<circle cx="116.23" cy="74.72" r="0.8" fill="none" stroke="#e8323c" stroke-width="0.5"/>
<circle cx="135.73" cy="74.52" r="0.8" fill="none" stroke="#e8323c" stroke-width="0.5"/>
<circle cx="126.34" cy="80.09" r="0.8" fill="none" stroke="#e8323c" stroke-width="0.5"/>
<circle cx="123.00" cy="66.33" r="0.8" fill="none" stroke="#e8323c" stroke-width="0.5"/>
<circle cx="119.87" cy="83.99" r="0.8" fill="none" stroke="#e8323c" stroke-width="0.5"/>
<circle cx="123.06" cy="107.59" r="0.8" fill="none" stroke="#e8323c" stroke-width="0.5"/>
<circle cx="128.50" cy="88.98" r="0.8" fill="none" stroke="#e8323c" stroke-width="0.5"/>
<circle cx="109.98" cy="66.82" r="0.8" fill="none" stroke="#e8323c" stroke-width="0.5"/>
<circle cx="123.16" cy="32.65" r="0.8" fill="none" stroke="#e8323c" stroke-width="0.5"/>
<circle cx="127.45" cy="83.57" r="0.8" fill="none" stroke="#e8323c" stroke-width="0.5"/>
<circle cx="112.07" cy="79.22" r="0.8" fill="none" stroke="#e8323c" stroke-width="0.5"/>
<circle cx="108.40" cy="72.25" r="0.8" fill="none" stroke="#e8323c" stroke-width="0.5"/>
<circle cx="120.36" cy="79.32" r="0.8" fill="none" stroke="#e8323c" stroke-width="0.5"/>
<circle cx="118.29" cy="74.73" r="0.8" fill="none" stroke="#e8323c" stroke-width="0.5"/>
<circle cx="128.31" cy="59.79" r="0.8" fill="none" stroke="#e8323c" stroke-width="0.5"/>
<circle cx="119.37" cy="64.08" r="0.8" fill="none" stroke="#e8323c" stroke-width="0.5"/>
<circle cx="127.49" cy="79.31" r="0.8" fill="none" stroke="#e8323c" stroke-width="0.5"/>
<circle cx="121.20" cy="96.19" r="0.8" fill="none" stroke="#e8323c" stroke-width="0.5"/>
<circle cx="124.26" cy="53.24" r="0.8" fill="none" stroke="#e8323c" stroke-width="0.5"/>
<circle cx="112.88" cy="72.53" r="0.8" fill="none" stroke="#e8323c" stroke-width="0.5"/>
<circle cx="128.67" cy="62.29" r="0.8" fill="none" stroke="#e8323c" stroke-width="0.5"/>
<circle cx="135.51" cy="69.69" r="0.8" fill="none" stroke="#e8323c" stroke-width="0.5"/>
<circle cx="122.59" cy="95.09" r="0.8" fill="none" stroke="#e8323c" stroke-width="0.5"/>
<circle cx="122.45" cy="63.12" r="0.8" fill="none" stroke="#e8323c" stroke-width="0.5"/>
<circle cx="117.06" cy="77.15" r="0.8" fill="none" stroke="#e8323c" stroke-width="0.5"/>
<circle cx="119.82" cy="82.62" r="0.8" fill="none" stroke="#e8323c" stroke-width="0.5"/>
<circle cx="110.54" cy="66.86" r="0.8" fill="none" stroke="#e8323c" stroke-width="0.5"/>
<circle cx="109.56" cy="65.30" r="0.8" fill="none" stroke="#e8323c" stroke-width="0.5"/>
<circle cx="125.73" cy="70.74" r="0.8" fill="none" stroke="#e8323c" stroke-width="0.5"/>
<circle cx="126.08" cy="82.18" r="0.8" fill="none" stroke="#e8323c" stroke-width="0.5"/>
<circle cx="119.97" cy="76.82" r="0.8" fill="none" stroke="#e8323c" stroke-width="0.5"/>
<circle cx="109.62" cy="70.49" r="0.8" fill="none" stroke="#e8323c" stroke-width="0.5"/>
<circle cx="119.59" cy="52.86" r="0.8" fill="none" stroke="#e8323c" stroke-width="0.5"/>
<circle cx="127.65" cy="79.34" r="0.8" fill="none" stroke="#e8323c" stroke-width="0.5"/>
<circle cx="117.44" cy="85.26" r="0.8" fill="none" stroke="#e8323c" stroke-width="0.5"/>
<circle cx="110.43" cy="72.13" r="0.8" fill="none" stroke="#e8323c" stroke-width="0.5"/>
<circle cx="128.72" cy="65.14" r="0.8" fill="none" stroke="#e8323c" stroke-width="0.5"/>
<circle cx="108.44" cy="65.46" r="0.8" fill="none" stroke="#e8323c" stroke-width="0.5"/>
<circle cx="116.23" cy="80.76" r="0.8" fill="none" stroke="#e8323c" stroke-width="0.5"/>
<circle cx="115.03" cy="74.92" r="0.8" fill="none" stroke="#e8323c" stroke-width="0.5"/>
<circle cx="122.92" cy="53.87" r="0.8" fill="none" stroke="#e8323c" stroke-width="0.5"/>
<circle cx="111.37" cy="64.42" r="0.8" fill="none" stroke="#e8323c" stroke-width="0.5"/>
<circle cx="108.89" cy="68.17" r="0.8" fill="none" stroke="#e8323c" stroke-width="0.5"/>
<circle cx="123.30" cy="106.62" r="0.8" fill="none" stroke="#e8323c" stroke-width="0.5"/>
<circle cx="109.88" cy="75.12" r="0.8" fill="none" stroke="#e8323c" stroke-width="0.5"/>
<circle cx="123.39" cy="82.63" r="0.8" fill="none" stroke="#e8323c" stroke-width="0.5"/>
<circle cx="117.14" cy="63.30" r="0.8" fill="none" stroke="#e8323c" stroke-width="0.5"/>
<circle cx="137.51" cy="77.06" r="0.8" fill="none" stroke="#e8323c" stroke-width="0.5"/>
<circle cx="135.98" cy="65.10" r="0.8" fill="none" stroke="#e8323c" stroke-width="0.5"/>
<circle cx="130.27" cy="83.89" r="0.8" fill="none" stroke="#e8323c" stroke-width="0.5"/>
<circle cx="123.11" cy="32.02" r="0.8" fill="none" stroke="#e8323c" stroke-width="0.5"/>
<circle cx="111.25" cy="79.11" r="0.8" fill="none" stroke="#e8323c" stroke-width="0.5"/>
<circle cx="139.80" cy="73.78" r="0.8" fill="none" stroke="#e8323c" stroke-width="0.5"/>
<circle cx="131.24" cy="83.56" r="0.8" fill="none" stroke="#e8323c" stroke-width="0.5"/>
<circle cx="134.89" cy="71.98" r="0.8" fill="none" stroke="#e8323c" stroke-width="0.5"/>
<circle cx="121.32" cy="77.65" r="0.8" fill="none" stroke="#e8323c" stroke-width="0.5"/>
<circle cx="112.68" cy="69.37" r="0.8" fill="none" stroke="#e8323c" stroke-width="0.5"/>
<circle cx="120.60" cy="70.80" r="0.8" fill="none" stroke="#e8323c" stroke-width="0.5"/>
<circle cx="120.59" cy="72.02" r="0.8" fill="none" stroke="#e8323c" stroke-width="0.5"/>
<circle cx="128.49" cy="89.41" r="0.8" fill="none" stroke="#e8323c" stroke-width="0.5"/>
<circle cx="116.73" cy="60.96" r="0.8" fill="none" stroke="#e8323c" stroke-width="0.5"/>
<circle cx="133.02" cy="75.48" r="0.8" fill="none" stroke="#e8323c" stroke-width="0.5"/>
<circle cx="127.88" cy="55.70" r="0.8" fill="none" stroke="#e8323c" stroke-width="0.5"/>
<circle cx="129.35" cy="59.89" r="0.8" fill="none" stroke="#e8323c" stroke-width="0.5"/>
<circle cx="112.07" cy="65.53" r="0.8" fill="none" stroke="#e8323c" stroke-width="0.5"/>
<circle cx="135.79" cy="72.37" r="0.8" fill="none" stroke="#e8323c" stroke-width="0.5"/>
<circle cx="132.38" cy="66.37" r="0.8" fill="none" stroke="#e8323c" stroke-width="0.5"/>
<circle cx="113.48" cy="71.48" r="0.8" fill="none" stroke="#e8323c" stroke-width="0.5"/>
<circle cx="119.05" cy="77.88" r="0.8" fill="none" stroke="#e8323c" stroke-width="0.5"/>
<circle cx="117.64" cy="69.70" r="0.8" fill="none" stroke="#e8323c" stroke-width="0.5"/>
<circle cx="119.45" cy="72.86" r="0.8" fill="none" stroke="#e8323c" stroke-width="0.5"/>
<circle cx="123.23" cy="38.51" r="0.8" fill="none" stroke="#e8323c" stroke-width="0.5"/>
<circle cx="122.98" cy="83.33" r="0.8" fill="none" stroke="#e8323c" stroke-width="0.5"/>
<circle cx="126.09" cy="60.43" r="0.8" fill="none" stroke="#e8323c" stroke-width="0.5"/>
<circle cx="118.94" cy="73.61" r="0.8" fill="none" stroke="#e8323c" stroke-width="0.5"/>
<circle cx="133.84" cy="70.39" r="0.8" fill="none" stroke="#e8323c" stroke-width="0.5"/>
<circle cx="133.47" cy="65.88" r="0.8" fill="none" stroke="#e8323c" stroke-width="0.5"/>
<circle cx="121.69" cy="57.72" r="0.8" fill="none" stroke="#e8323c" stroke-width="0.5"/>
<circle cx="121.90" cy="69.02" r="0.8" fill="none" stroke="#e8323c" stroke-width="0.5"/>
<circle cx="123.65" cy="103.15" r="0.8" fill="none" stroke="#e8323c" stroke-width="0.5"/>
<circle cx="115.32" cy="60.71" r="0.8" fill="none" stroke="#e8323c" stroke-width="0.5"/>
<circle cx="124.47" cy="99.59" r="0.8" fill="none" stroke="#e8323c" stroke-width="0.5"/>
<circle cx="129.17" cy="65.57" r="0.8" fill="none" stroke="#e8323c" stroke-width="0.5"/>
<circle cx="123.45" cy="53.55" r="0.8" fill="none" stroke="#e8323c" stroke-width="0.5"/>
<circle cx="120.40" cy="69.70" r="0.8" fill="none" stroke="#e8323c" stroke-width="0.5"/>
<circle cx="120.74" cy="56.21" r="0.8" fill="none" stroke="#e8323c" stroke-width="0.5"/>
<circle cx="135.67" cy="71.59" r="0.8" fill="none" stroke="#e8323c" stroke-width="0.5"/>
<circle cx="120.25" cy="50.65" r="0.8" fill="none" stroke="#e8323c" stroke-width="0.5"/>
<circle cx="118.18" cy="79.56" r="0.8" fill="none" stroke="#e8323c" stroke-width="0.5"/>
<circle cx="121.03" cy="83.96" r="0.8" fill="none" stroke="#e8323c" stroke-width="0.5"/>
<circle cx="125.14" cy="89.45" r="0.8" fill="none" stroke="#e8323c" stroke-width="0.5"/>
<circle cx="128.34" cy="63.91" r="0.8" fill="none" stroke="#e8323c" stroke-width="0.5"/>
<circle cx="122.96" cy="66.87" r="0.8" fill="none" stroke="#e8323c" stroke-width="0.5"/>
<circle cx="107.31" cy="65.09" r="0.8" fill="none" stroke="#e8323c" stroke-width="0.5"/>
<circle cx="117.99" cy="65.95" r="0.8" fill="none" stroke="#e8323c" stroke-width="0.5"/>
<circle cx="120.46" cy="57.80" r="0.8" fill="none" stroke="#e8323c" stroke-width="0.5"/>
<circle cx="119.38" cy="89.44" r="0.8" fill="none" stroke="#e8323c" stroke-width="0.5"/>
<circle cx="139.12" cy="76.83" r="0.8" fill="none" stroke="#e8323c" stroke-width="0.5"/>
<circle cx="117.73" cy="87.34" r="0.8" fill="none" stroke="#e8323c" stroke-width="0.5"/>
<circle cx="118.06" cy="84.56" r="0.8" fill="none" stroke="#e8323c" stroke-width="0.5"/>
<circle cx="116.87" cy="82.80" r="0.8" fill="none" stroke="#e8323c" stroke-width="0.5"/>
<rect x="105.20" y="64.60" width="36.30" height="15.20" fill="none" stroke="#e8323c" stroke-width="1.5" />
<line x1="105.20" y1="70.90" x2="141.50" y2="70.90" stroke="#e8323c" stroke-width="1.5" />
<line x1="123.30" y1="31.10" x2="123.30" y2="118.20" stroke="#e8323c" stroke-width="1.4" />
<line x1="119.30" y1="31.10" x2="127.20" y2="31.10" stroke="#e8323c" stroke-width="1.6" />
<line x1="119.30" y1="118.20" x2="127.20" y2="118.20" stroke="#e8323c" stroke-width="1.6" />
<line x1="226.90" y1="18.85" x2="226.90" y2="134.50" stroke="#000" stroke-width="1.35" />
<line x1="226.90" y1="133.85" x2="332.60" y2="133.85" stroke="#000" stroke-width="1.35" />
<line x1="223.10" y1="19.50" x2="226.90" y2="19.50" stroke="#000" stroke-width="1.35" />
<text x="209.46" y="23.00" font-size="10.60" fill="#1c1c1c">10</text>
<line x1="223.10" y1="42.37" x2="226.90" y2="42.37" stroke="#000" stroke-width="1.35" />
<text x="215.39" y="46.00" font-size="10.60" fill="#1c1c1c">5</text>
<line x1="223.10" y1="65.24" x2="226.90" y2="65.24" stroke="#000" stroke-width="1.35" />
<text x="215.29" y="68.00" font-size="10.60" fill="#1c1c1c">0</text>
<line x1="223.10" y1="88.11" x2="226.90" y2="88.11" stroke="#000" stroke-width="1.35" />
<text x="209.14" y="91.00" font-size="10.60" fill="#1c1c1c">−5</text>
<line x1="223.10" y1="110.98" x2="226.90" y2="110.98" stroke="#000" stroke-width="1.35" />
<text x="203.20" y="114.00" font-size="10.60" fill="#1c1c1c">−10</text>
<line x1="223.10" y1="133.85" x2="226.90" y2="133.85" stroke="#000" stroke-width="1.35" />
<text x="203.31" y="137.00" font-size="10.60" fill="#1c1c1c">−15</text>
<line x1="256.80" y1="133.85" x2="256.80" y2="138.35" stroke="#000" stroke-width="1.35" />
<line x1="302.20" y1="133.85" x2="302.20" y2="138.35" stroke="#000" stroke-width="1.35" />
<line x1="256.80" y1="71.25" x2="302.20" y2="95.43" stroke="#000" stroke-width="0.95" />
<line x1="256.80" y1="70.85" x2="302.20" y2="91.43" stroke="#000" stroke-width="0.95" />
<line x1="256.80" y1="69.58" x2="302.20" y2="87.79" stroke="#000" stroke-width="0.95" />
<line x1="256.80" y1="69.45" x2="302.20" y2="85.92" stroke="#000" stroke-width="0.95" />
<line x1="256.80" y1="65.89" x2="302.20" y2="78.64" stroke="#000" stroke-width="0.95" />
<line x1="256.80" y1="75.75" x2="302.20" y2="93.00" stroke="#000" stroke-width="0.95" />
<line x1="256.80" y1="82.17" x2="302.20" y2="91.26" stroke="#000" stroke-width="0.95" />
<line x1="256.80" y1="83.64" x2="302.20" y2="95.43" stroke="#000" stroke-width="0.95" />
<line x1="256.80" y1="55.26" x2="302.20" y2="60.21" stroke="#000" stroke-width="0.95" />
<line x1="256.80" y1="66.33" x2="302.20" y2="82.68" stroke="#000" stroke-width="0.95" />
<line x1="256.80" y1="80.15" x2="302.20" y2="83.83" stroke="#000" stroke-width="0.95" />
<line x1="256.80" y1="83.11" x2="302.20" y2="95.43" stroke="#000" stroke-width="0.95" />
<line x1="256.80" y1="79.17" x2="302.20" y2="92.79" stroke="#000" stroke-width="0.95" />
<line x1="256.80" y1="70.90" x2="302.20" y2="82.59" stroke="#000" stroke-width="0.95" />
<line x1="256.80" y1="71.61" x2="302.20" y2="79.87" stroke="#000" stroke-width="0.95" />
<line x1="256.80" y1="65.58" x2="302.20" y2="87.63" stroke="#000" stroke-width="0.95" />
<line x1="256.80" y1="69.82" x2="302.20" y2="88.30" stroke="#000" stroke-width="0.95" />
<line x1="256.80" y1="76.51" x2="302.20" y2="95.43" stroke="#000" stroke-width="0.95" />
<line x1="256.80" y1="54.79" x2="302.20" y2="60.21" stroke="#000" stroke-width="0.95" />
<line x1="256.80" y1="63.54" x2="302.20" y2="77.69" stroke="#000" stroke-width="0.95" />
<line x1="256.80" y1="75.39" x2="302.20" y2="88.25" stroke="#000" stroke-width="0.95" />
<line x1="256.80" y1="82.79" x2="302.20" y2="89.77" stroke="#000" stroke-width="0.95" />
<line x1="256.80" y1="61.78" x2="302.20" y2="88.42" stroke="#000" stroke-width="0.95" />
<line x1="256.80" y1="73.24" x2="302.20" y2="77.62" stroke="#000" stroke-width="0.95" />
<line x1="256.80" y1="55.99" x2="302.20" y2="69.55" stroke="#000" stroke-width="0.95" />
<line x1="256.80" y1="78.58" x2="302.20" y2="92.52" stroke="#000" stroke-width="0.95" />
<line x1="256.80" y1="57.43" x2="302.20" y2="93.82" stroke="#000" stroke-width="0.95" />
<line x1="256.80" y1="72.91" x2="302.20" y2="82.31" stroke="#000" stroke-width="0.95" />
<line x1="256.80" y1="82.70" x2="302.20" y2="95.43" stroke="#000" stroke-width="0.95" />
<line x1="256.80" y1="76.76" x2="302.20" y2="95.43" stroke="#000" stroke-width="0.95" />
<line x1="256.80" y1="82.28" x2="302.20" y2="95.43" stroke="#000" stroke-width="0.95" />
<line x1="256.80" y1="62.02" x2="302.20" y2="60.21" stroke="#000" stroke-width="0.95" />
<line x1="256.80" y1="81.35" x2="302.20" y2="94.98" stroke="#000" stroke-width="0.95" />
<line x1="256.80" y1="83.10" x2="302.20" y2="93.02" stroke="#000" stroke-width="0.95" />
<line x1="256.80" y1="60.85" x2="302.20" y2="69.94" stroke="#000" stroke-width="0.95" />
<line x1="256.80" y1="71.40" x2="302.20" y2="75.65" stroke="#000" stroke-width="0.95" />
<line x1="256.80" y1="79.15" x2="302.20" y2="93.37" stroke="#000" stroke-width="0.95" />
<line x1="256.80" y1="65.48" x2="302.20" y2="83.53" stroke="#000" stroke-width="0.95" />
<line x1="256.80" y1="81.39" x2="302.20" y2="95.43" stroke="#000" stroke-width="0.95" />
<line x1="256.80" y1="76.76" x2="302.20" y2="87.76" stroke="#000" stroke-width="0.95" />
<line x1="256.80" y1="48.32" x2="302.20" y2="42.83" stroke="#000" stroke-width="0.95" />
<line x1="256.80" y1="49.69" x2="302.20" y2="51.06" stroke="#000" stroke-width="0.95" />
<line x1="256.80" y1="44.66" x2="302.20" y2="121.50" stroke="#000" stroke-width="0.95" />
<line x1="256.80" y1="43.28" x2="302.20" y2="103.20" stroke="#000" stroke-width="0.95" />
<line x1="256.80" y1="56.09" x2="302.20" y2="98.17" stroke="#000" stroke-width="0.95" />
<line x1="256.80" y1="69.81" x2="302.20" y2="60.21" stroke="#000" stroke-width="0.95" />
<line x1="256.80" y1="42.83" x2="302.20" y2="74.39" stroke="#000" stroke-width="0.95" />
<line x1="256.80" y1="46.94" x2="302.20" y2="72.10" stroke="#000" stroke-width="0.95" />
<line x1="256.80" y1="48.77" x2="302.20" y2="83.54" stroke="#000" stroke-width="0.95" />
<circle cx="256.80" cy="71.25" r="1.35" fill="#000" />
<circle cx="302.20" cy="95.43" r="1.35" fill="#000" />
<circle cx="256.80" cy="70.85" r="1.35" fill="#000" />
<circle cx="302.20" cy="91.43" r="1.35" fill="#000" />
<circle cx="256.80" cy="69.58" r="1.35" fill="#000" />
<circle cx="302.20" cy="87.79" r="1.35" fill="#000" />
<circle cx="256.80" cy="69.45" r="1.35" fill="#000" />
<circle cx="302.20" cy="85.92" r="1.35" fill="#000" />
<circle cx="256.80" cy="65.89" r="1.35" fill="#000" />
<circle cx="302.20" cy="78.64" r="1.35" fill="#000" />
<circle cx="256.80" cy="75.75" r="1.35" fill="#000" />
<circle cx="302.20" cy="93.00" r="1.35" fill="#000" />
<circle cx="256.80" cy="82.17" r="1.35" fill="#000" />
<circle cx="302.20" cy="91.26" r="1.35" fill="#000" />
<circle cx="256.80" cy="83.64" r="1.35" fill="#000" />
<circle cx="302.20" cy="95.43" r="1.35" fill="#000" />
<circle cx="256.80" cy="55.26" r="1.35" fill="#000" />
<circle cx="302.20" cy="60.21" r="1.35" fill="#000" />
<circle cx="256.80" cy="66.33" r="1.35" fill="#000" />
<circle cx="302.20" cy="82.68" r="1.35" fill="#000" />
<circle cx="256.80" cy="80.15" r="1.35" fill="#000" />
<circle cx="302.20" cy="83.83" r="1.35" fill="#000" />
<circle cx="256.80" cy="83.11" r="1.35" fill="#000" />
<circle cx="302.20" cy="95.43" r="1.35" fill="#000" />
<circle cx="256.80" cy="79.17" r="1.35" fill="#000" />
<circle cx="302.20" cy="92.79" r="1.35" fill="#000" />
<circle cx="256.80" cy="70.90" r="1.35" fill="#000" />
<circle cx="302.20" cy="82.59" r="1.35" fill="#000" />
<circle cx="256.80" cy="71.61" r="1.35" fill="#000" />
<circle cx="302.20" cy="79.87" r="1.35" fill="#000" />
<circle cx="256.80" cy="65.58" r="1.35" fill="#000" />
<circle cx="302.20" cy="87.63" r="1.35" fill="#000" />
<circle cx="256.80" cy="69.82" r="1.35" fill="#000" />
<circle cx="302.20" cy="88.30" r="1.35" fill="#000" />
<circle cx="256.80" cy="76.51" r="1.35" fill="#000" />
<circle cx="302.20" cy="95.43" r="1.35" fill="#000" />
<circle cx="256.80" cy="54.79" r="1.35" fill="#000" />
<circle cx="302.20" cy="60.21" r="1.35" fill="#000" />
<circle cx="256.80" cy="63.54" r="1.35" fill="#000" />
<circle cx="302.20" cy="77.69" r="1.35" fill="#000" />
<circle cx="256.80" cy="75.39" r="1.35" fill="#000" />
<circle cx="302.20" cy="88.25" r="1.35" fill="#000" />
<circle cx="256.80" cy="82.79" r="1.35" fill="#000" />
<circle cx="302.20" cy="89.77" r="1.35" fill="#000" />
<circle cx="256.80" cy="61.78" r="1.35" fill="#000" />
<circle cx="302.20" cy="88.42" r="1.35" fill="#000" />
<circle cx="256.80" cy="73.24" r="1.35" fill="#000" />
<circle cx="302.20" cy="77.62" r="1.35" fill="#000" />
<circle cx="256.80" cy="55.99" r="1.35" fill="#000" />
<circle cx="302.20" cy="69.55" r="1.35" fill="#000" />
<circle cx="256.80" cy="78.58" r="1.35" fill="#000" />
<circle cx="302.20" cy="92.52" r="1.35" fill="#000" />
<circle cx="256.80" cy="57.43" r="1.35" fill="#000" />
<circle cx="302.20" cy="93.82" r="1.35" fill="#000" />
<circle cx="256.80" cy="72.91" r="1.35" fill="#000" />
<circle cx="302.20" cy="82.31" r="1.35" fill="#000" />
<circle cx="256.80" cy="82.70" r="1.35" fill="#000" />
<circle cx="302.20" cy="95.43" r="1.35" fill="#000" />
<circle cx="256.80" cy="76.76" r="1.35" fill="#000" />
<circle cx="302.20" cy="95.43" r="1.35" fill="#000" />
<circle cx="256.80" cy="82.28" r="1.35" fill="#000" />
<circle cx="302.20" cy="95.43" r="1.35" fill="#000" />
<circle cx="256.80" cy="62.02" r="1.35" fill="#000" />
<circle cx="302.20" cy="60.21" r="1.35" fill="#000" />
<circle cx="256.80" cy="81.35" r="1.35" fill="#000" />
<circle cx="302.20" cy="94.98" r="1.35" fill="#000" />
<circle cx="256.80" cy="83.10" r="1.35" fill="#000" />
<circle cx="302.20" cy="93.02" r="1.35" fill="#000" />
<circle cx="256.80" cy="60.85" r="1.35" fill="#000" />
<circle cx="302.20" cy="69.94" r="1.35" fill="#000" />
<circle cx="256.80" cy="71.40" r="1.35" fill="#000" />
<circle cx="302.20" cy="75.65" r="1.35" fill="#000" />
<circle cx="256.80" cy="79.15" r="1.35" fill="#000" />
<circle cx="302.20" cy="93.37" r="1.35" fill="#000" />
<circle cx="256.80" cy="65.48" r="1.35" fill="#000" />
<circle cx="302.20" cy="83.53" r="1.35" fill="#000" />
<circle cx="256.80" cy="81.39" r="1.35" fill="#000" />
<circle cx="302.20" cy="95.43" r="1.35" fill="#000" />
<circle cx="256.80" cy="76.76" r="1.35" fill="#000" />
<circle cx="302.20" cy="87.76" r="1.35" fill="#000" />
<circle cx="256.80" cy="48.32" r="1.35" fill="#000" />
<circle cx="302.20" cy="42.83" r="1.35" fill="#000" />
<circle cx="256.80" cy="49.69" r="1.35" fill="#000" />
<circle cx="302.20" cy="51.06" r="1.35" fill="#000" />
<circle cx="256.80" cy="44.66" r="1.35" fill="#000" />
<circle cx="302.20" cy="121.50" r="1.35" fill="#000" />
<circle cx="256.80" cy="43.28" r="1.35" fill="#000" />
<circle cx="302.20" cy="103.20" r="1.35" fill="#000" />
<circle cx="256.80" cy="56.09" r="1.35" fill="#000" />
<circle cx="302.20" cy="98.17" r="1.35" fill="#000" />
<circle cx="256.80" cy="69.81" r="1.35" fill="#000" />
<circle cx="302.20" cy="60.21" r="1.35" fill="#000" />
<circle cx="256.80" cy="42.83" r="1.35" fill="#000" />
<circle cx="302.20" cy="74.39" r="1.35" fill="#000" />
<circle cx="256.80" cy="46.94" r="1.35" fill="#000" />
<circle cx="302.20" cy="72.10" r="1.35" fill="#000" />
<circle cx="256.80" cy="48.77" r="1.35" fill="#000" />
<circle cx="302.20" cy="83.54" r="1.35" fill="#000" />
<text x="241.03" y="19.00" font-size="10.94" fill="#1c1c1c">pri-MIR100HG</text>
<text x="279.50" y="34.35" font-size="14.6" font-weight="bold" letter-spacing="1.0" text-anchor="middle" fill="#000">****</text>
<polyline points="256.80,38.20 256.80,33.40 302.70,33.40 302.70,38.20" fill="none" stroke="#000" stroke-width="1.3"/>
<text x="234.15" y="149.00" font-size="10.63" fill="#1c1c1c">Nontumor</text>
<text x="288.64" y="149.00" font-size="10.60" fill="#1c1c1c">Tumor</text>
<text transform="translate(181.09,120.38) rotate(-90)" font-size="11.03" fill="#1c1c1c">Relative expression</text>
<line x1="413.90" y1="17.75" x2="413.90" y2="134.05" stroke="#000" stroke-width="1.35" />
<line x1="413.90" y1="133.40" x2="518.80" y2="133.40" stroke="#000" stroke-width="1.35" />
<line x1="410.10" y1="18.40" x2="413.90" y2="18.40" stroke="#000" stroke-width="1.35" />
<text x="395.96" y="22.00" font-size="10.60" fill="#1c1c1c">10</text>
<line x1="410.10" y1="41.40" x2="413.90" y2="41.40" stroke="#000" stroke-width="1.35" />
<text x="401.89" y="45.00" font-size="10.60" fill="#1c1c1c">5</text>
<line x1="410.10" y1="64.40" x2="413.90" y2="64.40" stroke="#000" stroke-width="1.35" />
<text x="401.79" y="68.00" font-size="10.60" fill="#1c1c1c">0</text>
<line x1="410.10" y1="87.40" x2="413.90" y2="87.40" stroke="#000" stroke-width="1.35" />
<text x="395.64" y="91.00" font-size="10.60" fill="#1c1c1c">−5</text>
<line x1="410.10" y1="110.40" x2="413.90" y2="110.40" stroke="#000" stroke-width="1.35" />
<text x="389.70" y="114.00" font-size="10.60" fill="#1c1c1c">−10</text>
<line x1="410.10" y1="133.40" x2="413.90" y2="133.40" stroke="#000" stroke-width="1.35" />
<text x="389.81" y="137.00" font-size="10.60" fill="#1c1c1c">−15</text>
<line x1="443.60" y1="133.40" x2="443.60" y2="137.90" stroke="#000" stroke-width="1.35" />
<line x1="488.90" y1="133.40" x2="488.90" y2="137.90" stroke="#000" stroke-width="1.35" />
<line x1="443.60" y1="46.92" x2="488.90" y2="71.83" stroke="#000" stroke-width="0.95" />
<line x1="443.60" y1="60.33" x2="488.90" y2="77.46" stroke="#000" stroke-width="0.95" />
<line x1="443.60" y1="71.97" x2="488.90" y2="91.97" stroke="#000" stroke-width="0.95" />
<line x1="443.60" y1="68.49" x2="488.90" y2="84.13" stroke="#000" stroke-width="0.95" />
<line x1="443.60" y1="59.75" x2="488.90" y2="65.32" stroke="#000" stroke-width="0.95" />
<line x1="443.60" y1="61.55" x2="488.90" y2="66.30" stroke="#000" stroke-width="0.95" />
<line x1="443.60" y1="59.44" x2="488.90" y2="73.55" stroke="#000" stroke-width="0.95" />
<line x1="443.60" y1="65.99" x2="488.90" y2="90.03" stroke="#000" stroke-width="0.95" />
<line x1="443.60" y1="79.16" x2="488.90" y2="95.06" stroke="#000" stroke-width="0.95" />
<line x1="443.60" y1="65.58" x2="488.90" y2="77.85" stroke="#000" stroke-width="0.95" />
<line x1="443.60" y1="60.82" x2="488.90" y2="87.55" stroke="#000" stroke-width="0.95" />
<line x1="443.60" y1="70.84" x2="488.90" y2="96.29" stroke="#000" stroke-width="0.95" />
<line x1="443.60" y1="54.46" x2="488.90" y2="70.78" stroke="#000" stroke-width="0.95" />
<line x1="443.60" y1="62.91" x2="488.90" y2="86.44" stroke="#000" stroke-width="0.95" />
<line x1="443.60" y1="76.25" x2="488.90" y2="96.60" stroke="#000" stroke-width="0.95" />
<line x1="443.60" y1="65.09" x2="488.90" y2="76.23" stroke="#000" stroke-width="0.95" />
<line x1="443.60" y1="78.64" x2="488.90" y2="90.99" stroke="#000" stroke-width="0.95" />
<line x1="443.60" y1="72.34" x2="488.90" y2="92.46" stroke="#000" stroke-width="0.95" />
<line x1="443.60" y1="67.31" x2="488.90" y2="86.58" stroke="#000" stroke-width="0.95" />
<line x1="443.60" y1="59.77" x2="488.90" y2="67.17" stroke="#000" stroke-width="0.95" />
<line x1="443.60" y1="60.92" x2="488.90" y2="81.19" stroke="#000" stroke-width="0.95" />
<line x1="443.60" y1="60.17" x2="488.90" y2="72.13" stroke="#000" stroke-width="0.95" />
<line x1="443.60" y1="55.95" x2="488.90" y2="68.89" stroke="#000" stroke-width="0.95" />
<line x1="443.60" y1="79.55" x2="488.90" y2="96.60" stroke="#000" stroke-width="0.95" />
<line x1="443.60" y1="67.99" x2="488.90" y2="74.99" stroke="#000" stroke-width="0.95" />
<line x1="443.60" y1="65.45" x2="488.90" y2="72.56" stroke="#000" stroke-width="0.95" />
<line x1="443.60" y1="61.38" x2="488.90" y2="87.53" stroke="#000" stroke-width="0.95" />
<line x1="443.60" y1="63.72" x2="488.90" y2="74.07" stroke="#000" stroke-width="0.95" />
<line x1="443.60" y1="60.29" x2="488.90" y2="89.10" stroke="#000" stroke-width="0.95" />
<line x1="443.60" y1="60.10" x2="488.90" y2="80.80" stroke="#000" stroke-width="0.95" />
<line x1="443.60" y1="83.26" x2="488.90" y2="96.60" stroke="#000" stroke-width="0.95" />
<line x1="443.60" y1="82.94" x2="488.90" y2="96.60" stroke="#000" stroke-width="0.95" />
<line x1="443.60" y1="50.45" x2="488.90" y2="65.32" stroke="#000" stroke-width="0.95" />
<line x1="443.60" y1="54.07" x2="488.90" y2="65.50" stroke="#000" stroke-width="0.95" />
<line x1="443.60" y1="46.92" x2="488.90" y2="65.32" stroke="#000" stroke-width="0.95" />
<line x1="443.60" y1="73.50" x2="488.90" y2="96.60" stroke="#000" stroke-width="0.95" />
<line x1="443.60" y1="55.51" x2="488.90" y2="91.33" stroke="#000" stroke-width="0.95" />
<line x1="443.60" y1="83.26" x2="488.90" y2="96.60" stroke="#000" stroke-width="0.95" />
<line x1="443.60" y1="63.54" x2="488.90" y2="86.74" stroke="#000" stroke-width="0.95" />
<line x1="443.60" y1="54.20" x2="488.90" y2="70.36" stroke="#000" stroke-width="0.95" />
<line x1="443.60" y1="62.14" x2="488.90" y2="73.44" stroke="#000" stroke-width="0.95" />
<line x1="443.60" y1="69.73" x2="488.90" y2="83.15" stroke="#000" stroke-width="0.95" />
<line x1="443.60" y1="46.92" x2="488.90" y2="70.78" stroke="#000" stroke-width="0.95" />
<line x1="443.60" y1="62.52" x2="488.90" y2="73.04" stroke="#000" stroke-width="0.95" />
<line x1="443.60" y1="42.32" x2="488.90" y2="73.60" stroke="#000" stroke-width="0.95" />
<line x1="443.60" y1="62.10" x2="488.90" y2="46.92" stroke="#000" stroke-width="0.95" />
<line x1="443.60" y1="73.60" x2="488.90" y2="52.90" stroke="#000" stroke-width="0.95" />
<line x1="443.60" y1="66.70" x2="488.90" y2="57.50" stroke="#000" stroke-width="0.95" />
<line x1="443.60" y1="108.10" x2="488.90" y2="89.70" stroke="#000" stroke-width="0.95" />
<line x1="443.60" y1="50.60" x2="488.90" y2="108.10" stroke="#000" stroke-width="0.95" />
<line x1="443.60" y1="55.20" x2="488.90" y2="101.20" stroke="#000" stroke-width="0.95" />
<line x1="443.60" y1="59.80" x2="488.90" y2="98.90" stroke="#000" stroke-width="0.95" />
<circle cx="443.60" cy="46.92" r="1.35" fill="#000" />
<circle cx="488.90" cy="71.83" r="1.35" fill="#000" />
<circle cx="443.60" cy="60.33" r="1.35" fill="#000" />
<circle cx="488.90" cy="77.46" r="1.35" fill="#000" />
<circle cx="443.60" cy="71.97" r="1.35" fill="#000" />
<circle cx="488.90" cy="91.97" r="1.35" fill="#000" />
<circle cx="443.60" cy="68.49" r="1.35" fill="#000" />
<circle cx="488.90" cy="84.13" r="1.35" fill="#000" />
<circle cx="443.60" cy="59.75" r="1.35" fill="#000" />
<circle cx="488.90" cy="65.32" r="1.35" fill="#000" />
<circle cx="443.60" cy="61.55" r="1.35" fill="#000" />
<circle cx="488.90" cy="66.30" r="1.35" fill="#000" />
<circle cx="443.60" cy="59.44" r="1.35" fill="#000" />
<circle cx="488.90" cy="73.55" r="1.35" fill="#000" />
<circle cx="443.60" cy="65.99" r="1.35" fill="#000" />
<circle cx="488.90" cy="90.03" r="1.35" fill="#000" />
<circle cx="443.60" cy="79.16" r="1.35" fill="#000" />
<circle cx="488.90" cy="95.06" r="1.35" fill="#000" />
<circle cx="443.60" cy="65.58" r="1.35" fill="#000" />
<circle cx="488.90" cy="77.85" r="1.35" fill="#000" />
<circle cx="443.60" cy="60.82" r="1.35" fill="#000" />
<circle cx="488.90" cy="87.55" r="1.35" fill="#000" />
<circle cx="443.60" cy="70.84" r="1.35" fill="#000" />
<circle cx="488.90" cy="96.29" r="1.35" fill="#000" />
<circle cx="443.60" cy="54.46" r="1.35" fill="#000" />
<circle cx="488.90" cy="70.78" r="1.35" fill="#000" />
<circle cx="443.60" cy="62.91" r="1.35" fill="#000" />
<circle cx="488.90" cy="86.44" r="1.35" fill="#000" />
<circle cx="443.60" cy="76.25" r="1.35" fill="#000" />
<circle cx="488.90" cy="96.60" r="1.35" fill="#000" />
<circle cx="443.60" cy="65.09" r="1.35" fill="#000" />
<circle cx="488.90" cy="76.23" r="1.35" fill="#000" />
<circle cx="443.60" cy="78.64" r="1.35" fill="#000" />
<circle cx="488.90" cy="90.99" r="1.35" fill="#000" />
<circle cx="443.60" cy="72.34" r="1.35" fill="#000" />
<circle cx="488.90" cy="92.46" r="1.35" fill="#000" />
<circle cx="443.60" cy="67.31" r="1.35" fill="#000" />
<circle cx="488.90" cy="86.58" r="1.35" fill="#000" />
<circle cx="443.60" cy="59.77" r="1.35" fill="#000" />
<circle cx="488.90" cy="67.17" r="1.35" fill="#000" />
<circle cx="443.60" cy="60.92" r="1.35" fill="#000" />
<circle cx="488.90" cy="81.19" r="1.35" fill="#000" />
<circle cx="443.60" cy="60.17" r="1.35" fill="#000" />
<circle cx="488.90" cy="72.13" r="1.35" fill="#000" />
<circle cx="443.60" cy="55.95" r="1.35" fill="#000" />
<circle cx="488.90" cy="68.89" r="1.35" fill="#000" />
<circle cx="443.60" cy="79.55" r="1.35" fill="#000" />
<circle cx="488.90" cy="96.60" r="1.35" fill="#000" />
<circle cx="443.60" cy="67.99" r="1.35" fill="#000" />
<circle cx="488.90" cy="74.99" r="1.35" fill="#000" />
<circle cx="443.60" cy="65.45" r="1.35" fill="#000" />
<circle cx="488.90" cy="72.56" r="1.35" fill="#000" />
<circle cx="443.60" cy="61.38" r="1.35" fill="#000" />
<circle cx="488.90" cy="87.53" r="1.35" fill="#000" />
<circle cx="443.60" cy="63.72" r="1.35" fill="#000" />
<circle cx="488.90" cy="74.07" r="1.35" fill="#000" />
<circle cx="443.60" cy="60.29" r="1.35" fill="#000" />
<circle cx="488.90" cy="89.10" r="1.35" fill="#000" />
<circle cx="443.60" cy="60.10" r="1.35" fill="#000" />
<circle cx="488.90" cy="80.80" r="1.35" fill="#000" />
<circle cx="443.60" cy="83.26" r="1.35" fill="#000" />
<circle cx="488.90" cy="96.60" r="1.35" fill="#000" />
<circle cx="443.60" cy="82.94" r="1.35" fill="#000" />
<circle cx="488.90" cy="96.60" r="1.35" fill="#000" />
<circle cx="443.60" cy="50.45" r="1.35" fill="#000" />
<circle cx="488.90" cy="65.32" r="1.35" fill="#000" />
<circle cx="443.60" cy="54.07" r="1.35" fill="#000" />
<circle cx="488.90" cy="65.50" r="1.35" fill="#000" />
<circle cx="443.60" cy="46.92" r="1.35" fill="#000" />
<circle cx="488.90" cy="65.32" r="1.35" fill="#000" />
<circle cx="443.60" cy="73.50" r="1.35" fill="#000" />
<circle cx="488.90" cy="96.60" r="1.35" fill="#000" />
<circle cx="443.60" cy="55.51" r="1.35" fill="#000" />
<circle cx="488.90" cy="91.33" r="1.35" fill="#000" />
<circle cx="443.60" cy="83.26" r="1.35" fill="#000" />
<circle cx="488.90" cy="96.60" r="1.35" fill="#000" />
<circle cx="443.60" cy="63.54" r="1.35" fill="#000" />
<circle cx="488.90" cy="86.74" r="1.35" fill="#000" />
<circle cx="443.60" cy="54.20" r="1.35" fill="#000" />
<circle cx="488.90" cy="70.36" r="1.35" fill="#000" />
<circle cx="443.60" cy="62.14" r="1.35" fill="#000" />
<circle cx="488.90" cy="73.44" r="1.35" fill="#000" />
<circle cx="443.60" cy="69.73" r="1.35" fill="#000" />
<circle cx="488.90" cy="83.15" r="1.35" fill="#000" />
<circle cx="443.60" cy="46.92" r="1.35" fill="#000" />
<circle cx="488.90" cy="70.78" r="1.35" fill="#000" />
<circle cx="443.60" cy="62.52" r="1.35" fill="#000" />
<circle cx="488.90" cy="73.04" r="1.35" fill="#000" />
<circle cx="443.60" cy="42.32" r="1.35" fill="#000" />
<circle cx="488.90" cy="73.60" r="1.35" fill="#000" />
<circle cx="443.60" cy="62.10" r="1.35" fill="#000" />
<circle cx="488.90" cy="46.92" r="1.35" fill="#000" />
<circle cx="443.60" cy="73.60" r="1.35" fill="#000" />
<circle cx="488.90" cy="52.90" r="1.35" fill="#000" />
<circle cx="443.60" cy="66.70" r="1.35" fill="#000" />
<circle cx="488.90" cy="57.50" r="1.35" fill="#000" />
<circle cx="443.60" cy="108.10" r="1.35" fill="#000" />
<circle cx="488.90" cy="89.70" r="1.35" fill="#000" />
<circle cx="443.60" cy="50.60" r="1.35" fill="#000" />
<circle cx="488.90" cy="108.10" r="1.35" fill="#000" />
<circle cx="443.60" cy="55.20" r="1.35" fill="#000" />
<circle cx="488.90" cy="101.20" r="1.35" fill="#000" />
<circle cx="443.60" cy="59.80" r="1.35" fill="#000" />
<circle cx="488.90" cy="98.90" r="1.35" fill="#000" />
<text x="435.22" y="17.00" font-size="10.97" fill="#1c1c1c">MIR100HG</text>
<text x="465.90" y="32.00" font-size="14.6" font-weight="bold" letter-spacing="1.0" text-anchor="middle" fill="#000">****</text>
<polyline points="443.70,37.80 443.70,33.60 489.40,33.60 489.40,37.80" fill="none" stroke="#000" stroke-width="1.3"/>
<text x="421.74" y="149.00" font-size="10.70" fill="#1c1c1c">Nontumor</text>
<text x="473.69" y="149.00" font-size="10.60" fill="#1c1c1c">Tumor</text>
<text transform="translate(368.09,120.38) rotate(-90)" font-size="11.03" fill="#1c1c1c">Relative expression</text>
<text transform="translate(194.76,100.96) rotate(-90)" font-size="10.93" fill="#1c1c1c">(log<tspan font-size="7.65" dy="2.19">2</tspan><tspan dy="-2.19">(2</tspan><tspan font-size="6.78" dy="-4.15">−ΔC</tspan><tspan font-size="4.92" dy="1.31">t</tspan><tspan dy="2.84">))</tspan></text>
<text transform="translate(381.63,100.95) rotate(-90)" font-size="10.85" fill="#1c1c1c">(log<tspan font-size="7.59" dy="2.17">2</tspan><tspan dy="-2.17">(2</tspan><tspan font-size="6.73" dy="-4.12">−ΔC</tspan><tspan font-size="4.88" dy="1.30">t</tspan><tspan dy="2.82">))</tspan></text>
<text x="0.86" y="182.87" font-size="15.6" font-weight="bold" fill="#000">D</text>
<text x="80.89" y="185.00" font-size="10.40" fill="#1c1c1c">TCGA</text>
<line x1="36.60" y1="191.00" x2="36.60" y2="311.44" stroke="#000" stroke-width="1.35" />
<line x1="36.60" y1="310.80" x2="146.50" y2="310.80" stroke="#000" stroke-width="1.35" />
<line x1="33.80" y1="191.65" x2="36.60" y2="191.65" stroke="#000" stroke-width="1.35" />
<text x="20.56" y="195.00" font-size="10.60" fill="#1c1c1c">20</text>
<line x1="33.80" y1="231.37" x2="36.60" y2="231.37" stroke="#000" stroke-width="1.35" />
<text x="20.56" y="235.00" font-size="10.60" fill="#1c1c1c">15</text>
<line x1="33.80" y1="271.08" x2="36.60" y2="271.08" stroke="#000" stroke-width="1.35" />
<text x="20.56" y="275.00" font-size="10.60" fill="#1c1c1c">10</text>
<line x1="33.80" y1="310.80" x2="36.60" y2="310.80" stroke="#000" stroke-width="1.35" />
<text x="26.49" y="314.00" font-size="10.60" fill="#1c1c1c">5</text>
<line x1="36.60" y1="310.80" x2="36.60" y2="314.00" stroke="#000" stroke-width="1.35" />
<text x="30.51" y="325.00" font-size="10.60" fill="#1c1c1c">18</text>
<line x1="73.04" y1="310.80" x2="73.04" y2="314.00" stroke="#000" stroke-width="1.35" />
<text x="67.10" y="325.00" font-size="10.60" fill="#1c1c1c">20</text>
<line x1="109.48" y1="310.80" x2="109.48" y2="314.00" stroke="#000" stroke-width="1.35" />
<text x="103.60" y="325.00" font-size="10.60" fill="#1c1c1c">22</text>
<line x1="145.92" y1="310.80" x2="145.92" y2="314.00" stroke="#000" stroke-width="1.35" />
<text x="139.93" y="325.00" font-size="10.60" fill="#1c1c1c">24</text>
<text x="50.45" y="339.00" font-size="10.65" fill="#1c1c1c">MYC (log<tspan font-size="7.46" dy="2.13">2</tspan><tspan dy="-2.13">FPKM)</tspan></text>
<text transform="translate(10.39,308.56) rotate(-90)" font-size="10.72" fill="#1c1c1c">MIR100HG (log<tspan font-size="7.50" dy="2.14">2</tspan><tspan dy="-2.14">FPKM)</tspan></text>
<circle cx="44.08" cy="213.00" r="1.25" fill="#000" />
<circle cx="53.31" cy="211.85" r="1.25" fill="#000" />
<circle cx="60.23" cy="214.16" r="1.25" fill="#000" />
<circle cx="44.54" cy="222.23" r="1.25" fill="#000" />
<circle cx="50.54" cy="219.92" r="1.25" fill="#000" />
<circle cx="53.77" cy="225.69" r="1.25" fill="#000" />
<circle cx="59.08" cy="224.54" r="1.25" fill="#000" />
<circle cx="61.85" cy="222.23" r="1.25" fill="#000" />
<circle cx="65.54" cy="221.08" r="1.25" fill="#000" />
<circle cx="68.31" cy="223.85" r="1.25" fill="#000" />
<circle cx="70.62" cy="223.39" r="1.25" fill="#000" />
<circle cx="72.46" cy="222.69" r="1.25" fill="#000" />
<circle cx="75.23" cy="221.54" r="1.25" fill="#000" />
<circle cx="77.54" cy="225.00" r="1.25" fill="#000" />
<circle cx="80.31" cy="224.54" r="1.25" fill="#000" />
<circle cx="83.31" cy="225.00" r="1.25" fill="#000" />
<circle cx="104.77" cy="223.39" r="1.25" fill="#000" />
<circle cx="53.31" cy="231.93" r="1.25" fill="#000" />
<circle cx="59.77" cy="229.62" r="1.25" fill="#000" />
<circle cx="60.92" cy="228.00" r="1.25" fill="#000" />
<circle cx="66.00" cy="231.93" r="1.25" fill="#000" />
<circle cx="76.39" cy="230.77" r="1.25" fill="#000" />
<circle cx="78.70" cy="231.93" r="1.25" fill="#000" />
<circle cx="81.00" cy="229.62" r="1.25" fill="#000" />
<circle cx="83.31" cy="233.08" r="1.25" fill="#000" />
<circle cx="85.62" cy="234.23" r="1.25" fill="#000" />
<circle cx="88.62" cy="229.62" r="1.25" fill="#000" />
<circle cx="90.23" cy="231.46" r="1.25" fill="#000" />
<circle cx="92.54" cy="229.16" r="1.25" fill="#000" />
<circle cx="94.16" cy="230.77" r="1.25" fill="#000" />
<circle cx="96.47" cy="233.08" r="1.25" fill="#000" />
<circle cx="98.31" cy="230.08" r="1.25" fill="#000" />
<circle cx="100.62" cy="231.93" r="1.25" fill="#000" />
<circle cx="105.24" cy="230.77" r="1.25" fill="#000" />
<circle cx="109.85" cy="230.08" r="1.25" fill="#000" />
<circle cx="111.70" cy="233.08" r="1.25" fill="#000" />
<circle cx="114.47" cy="234.23" r="1.25" fill="#000" />
<circle cx="75.23" cy="237.70" r="1.25" fill="#000" />
<circle cx="77.54" cy="236.54" r="1.25" fill="#000" />
<circle cx="81.00" cy="238.85" r="1.25" fill="#000" />
<circle cx="84.47" cy="237.70" r="1.25" fill="#000" />
<circle cx="87.93" cy="236.54" r="1.25" fill="#000" />
<circle cx="90.23" cy="237.70" r="1.25" fill="#000" />
<circle cx="92.54" cy="235.39" r="1.25" fill="#000" />
<circle cx="94.85" cy="238.85" r="1.25" fill="#000" />
<circle cx="97.16" cy="236.54" r="1.25" fill="#000" />
<circle cx="99.47" cy="237.70" r="1.25" fill="#000" />
<circle cx="101.77" cy="236.08" r="1.25" fill="#000" />
<circle cx="104.08" cy="238.85" r="1.25" fill="#000" />
<circle cx="106.39" cy="236.54" r="1.25" fill="#000" />
<circle cx="108.70" cy="237.70" r="1.25" fill="#000" />
<circle cx="112.16" cy="238.85" r="1.25" fill="#000" />
<circle cx="115.62" cy="237.70" r="1.25" fill="#000" />
<circle cx="124.85" cy="236.54" r="1.25" fill="#000" />
<circle cx="135.24" cy="238.16" r="1.25" fill="#000" />
<circle cx="78.70" cy="241.16" r="1.25" fill="#000" />
<circle cx="81.00" cy="243.47" r="1.25" fill="#000" />
<circle cx="83.31" cy="242.31" r="1.25" fill="#000" />
<circle cx="85.62" cy="244.62" r="1.25" fill="#000" />
<circle cx="87.93" cy="241.16" r="1.25" fill="#000" />
<circle cx="91.39" cy="243.47" r="1.25" fill="#000" />
<circle cx="93.70" cy="242.31" r="1.25" fill="#000" />
<circle cx="96.00" cy="244.62" r="1.25" fill="#000" />
<circle cx="98.31" cy="241.16" r="1.25" fill="#000" />
<circle cx="100.62" cy="243.47" r="1.25" fill="#000" />
<circle cx="102.93" cy="242.31" r="1.25" fill="#000" />
<circle cx="105.24" cy="244.62" r="1.25" fill="#000" />
<circle cx="107.54" cy="241.16" r="1.25" fill="#000" />
<circle cx="109.85" cy="243.47" r="1.25" fill="#000" />
<circle cx="113.31" cy="242.31" r="1.25" fill="#000" />
<circle cx="120.24" cy="242.31" r="1.25" fill="#000" />
<circle cx="121.39" cy="244.62" r="1.25" fill="#000" />
<circle cx="52.16" cy="244.62" r="1.25" fill="#000" />
<circle cx="65.54" cy="246.93" r="1.25" fill="#000" />
<circle cx="72.93" cy="249.23" r="1.25" fill="#000" />
<circle cx="79.85" cy="246.93" r="1.25" fill="#000" />
<circle cx="82.16" cy="249.23" r="1.25" fill="#000" />
<circle cx="84.47" cy="248.08" r="1.25" fill="#000" />
<circle cx="86.77" cy="250.39" r="1.25" fill="#000" />
<circle cx="89.08" cy="246.93" r="1.25" fill="#000" />
<circle cx="91.39" cy="249.23" r="1.25" fill="#000" />
<circle cx="93.70" cy="248.08" r="1.25" fill="#000" />
<circle cx="96.00" cy="250.39" r="1.25" fill="#000" />
<circle cx="98.31" cy="246.93" r="1.25" fill="#000" />
<circle cx="100.62" cy="249.23" r="1.25" fill="#000" />
<circle cx="102.93" cy="248.08" r="1.25" fill="#000" />
<circle cx="105.24" cy="246.93" r="1.25" fill="#000" />
<circle cx="107.54" cy="249.23" r="1.25" fill="#000" />
<circle cx="109.85" cy="248.08" r="1.25" fill="#000" />
<circle cx="112.16" cy="250.39" r="1.25" fill="#000" />
<circle cx="115.62" cy="249.93" r="1.25" fill="#000" />
<circle cx="124.85" cy="248.54" r="1.25" fill="#000" />
<circle cx="129.47" cy="251.54" r="1.25" fill="#000" />
<circle cx="48.69" cy="251.08" r="1.25" fill="#000" />
<circle cx="76.39" cy="252.70" r="1.25" fill="#000" />
<circle cx="78.70" cy="253.85" r="1.25" fill="#000" />
<circle cx="83.31" cy="251.54" r="1.25" fill="#000" />
<circle cx="85.62" cy="252.70" r="1.25" fill="#000" />
<circle cx="87.93" cy="253.85" r="1.25" fill="#000" />
<circle cx="90.23" cy="251.54" r="1.25" fill="#000" />
<circle cx="92.54" cy="252.70" r="1.25" fill="#000" />
<circle cx="94.85" cy="253.85" r="1.25" fill="#000" />
<circle cx="97.16" cy="251.54" r="1.25" fill="#000" />
<circle cx="99.47" cy="252.70" r="1.25" fill="#000" />
<circle cx="101.77" cy="251.54" r="1.25" fill="#000" />
<circle cx="104.08" cy="253.16" r="1.25" fill="#000" />
<circle cx="108.70" cy="252.70" r="1.25" fill="#000" />
<circle cx="111.01" cy="253.85" r="1.25" fill="#000" />
<circle cx="114.47" cy="251.54" r="1.25" fill="#000" />
<circle cx="117.93" cy="252.70" r="1.25" fill="#000" />
<circle cx="74.08" cy="256.16" r="1.25" fill="#000" />
<circle cx="82.16" cy="256.16" r="1.25" fill="#000" />
<circle cx="84.47" cy="257.77" r="1.25" fill="#000" />
<circle cx="86.77" cy="255.47" r="1.25" fill="#000" />
<circle cx="91.39" cy="256.85" r="1.25" fill="#000" />
<circle cx="94.85" cy="257.31" r="1.25" fill="#000" />
<circle cx="108.70" cy="256.16" r="1.25" fill="#000" />
<circle cx="111.01" cy="257.77" r="1.25" fill="#000" />
<circle cx="113.31" cy="256.16" r="1.25" fill="#000" />
<circle cx="115.62" cy="258.47" r="1.25" fill="#000" />
<circle cx="119.08" cy="256.85" r="1.25" fill="#000" />
<circle cx="75.23" cy="260.77" r="1.25" fill="#000" />
<circle cx="78.70" cy="261.47" r="1.25" fill="#000" />
<circle cx="83.31" cy="260.08" r="1.25" fill="#000" />
<circle cx="85.62" cy="261.93" r="1.25" fill="#000" />
<circle cx="91.39" cy="263.08" r="1.25" fill="#000" />
<circle cx="109.85" cy="260.77" r="1.25" fill="#000" />
<circle cx="112.16" cy="261.93" r="1.25" fill="#000" />
<circle cx="115.62" cy="263.08" r="1.25" fill="#000" />
<circle cx="117.93" cy="264.24" r="1.25" fill="#000" />
<circle cx="82.16" cy="266.54" r="1.25" fill="#000" />
<circle cx="85.62" cy="265.39" r="1.25" fill="#000" />
<circle cx="90.23" cy="267.70" r="1.25" fill="#000" />
<circle cx="83.31" cy="270.01" r="1.25" fill="#000" />
<circle cx="98.31" cy="269.31" r="1.25" fill="#000" />
<circle cx="92.54" cy="271.16" r="1.25" fill="#000" />
<circle cx="115.62" cy="269.31" r="1.25" fill="#000" />
<circle cx="119.08" cy="268.39" r="1.25" fill="#000" />
<circle cx="57.92" cy="269.31" r="1.25" fill="#000" />
<circle cx="81.00" cy="274.62" r="1.25" fill="#000" />
<circle cx="84.47" cy="273.01" r="1.25" fill="#000" />
<circle cx="90.23" cy="275.78" r="1.25" fill="#000" />
<circle cx="113.31" cy="271.16" r="1.25" fill="#000" />
<circle cx="114.47" cy="270.01" r="1.25" fill="#000" />
<circle cx="96.00" cy="279.93" r="1.25" fill="#000" />
<circle cx="100.62" cy="285.01" r="1.25" fill="#000" />
<circle cx="81.85" cy="233.81" r="1.25" fill="#000" />
<circle cx="109.21" cy="244.62" r="1.25" fill="#000" />
<circle cx="112.28" cy="238.97" r="1.25" fill="#000" />
<circle cx="100.78" cy="240.71" r="1.25" fill="#000" />
<circle cx="87.14" cy="244.16" r="1.25" fill="#000" />
<circle cx="80.91" cy="240.16" r="1.25" fill="#000" />
<circle cx="104.36" cy="243.46" r="1.25" fill="#000" />
<circle cx="91.08" cy="260.52" r="1.25" fill="#000" />
<circle cx="96.70" cy="238.31" r="1.25" fill="#000" />
<circle cx="97.91" cy="238.82" r="1.25" fill="#000" />
<circle cx="91.38" cy="240.20" r="1.25" fill="#000" />
<circle cx="120.30" cy="243.18" r="1.25" fill="#000" />
<circle cx="98.11" cy="248.39" r="1.25" fill="#000" />
<circle cx="120.20" cy="241.21" r="1.25" fill="#000" />
<circle cx="78.48" cy="240.06" r="1.25" fill="#000" />
<circle cx="104.00" cy="261.27" r="1.25" fill="#000" />
<circle cx="103.94" cy="238.83" r="1.25" fill="#000" />
<circle cx="91.35" cy="246.69" r="1.25" fill="#000" />
<circle cx="98.68" cy="245.33" r="1.25" fill="#000" />
<circle cx="90.83" cy="253.31" r="1.25" fill="#000" />
<circle cx="114.06" cy="243.26" r="1.25" fill="#000" />
<circle cx="90.58" cy="248.87" r="1.25" fill="#000" />
<circle cx="101.73" cy="234.68" r="1.25" fill="#000" />
<circle cx="90.48" cy="251.39" r="1.25" fill="#000" />
<circle cx="94.84" cy="240.37" r="1.25" fill="#000" />
<circle cx="98.55" cy="242.73" r="1.25" fill="#000" />
<circle cx="116.99" cy="244.60" r="1.25" fill="#000" />
<circle cx="85.48" cy="250.84" r="1.25" fill="#000" />
<circle cx="99.71" cy="243.14" r="1.25" fill="#000" />
<circle cx="108.58" cy="261.09" r="1.25" fill="#000" />
<circle cx="102.64" cy="255.68" r="1.25" fill="#000" />
<circle cx="121.89" cy="234.83" r="1.25" fill="#000" />
<circle cx="89.72" cy="249.21" r="1.25" fill="#000" />
<circle cx="111.51" cy="251.35" r="1.25" fill="#000" />
<circle cx="105.21" cy="246.96" r="1.25" fill="#000" />
<circle cx="81.40" cy="258.34" r="1.25" fill="#000" />
<circle cx="86.03" cy="241.06" r="1.25" fill="#000" />
<circle cx="92.94" cy="247.57" r="1.25" fill="#000" />
<circle cx="102.01" cy="245.14" r="1.25" fill="#000" />
<circle cx="98.00" cy="245.14" r="1.25" fill="#000" />
<circle cx="110.77" cy="242.18" r="1.25" fill="#000" />
<circle cx="88.67" cy="246.28" r="1.25" fill="#000" />
<circle cx="83.92" cy="245.30" r="1.25" fill="#000" />
<circle cx="121.09" cy="249.11" r="1.25" fill="#000" />
<circle cx="109.70" cy="244.91" r="1.25" fill="#000" />
<circle cx="99.35" cy="239.40" r="1.25" fill="#000" />
<circle cx="81.57" cy="232.70" r="1.25" fill="#000" />
<circle cx="106.04" cy="248.30" r="1.25" fill="#000" />
<line x1="44.50" y1="232.00" x2="135.00" y2="256.50" stroke="#000" stroke-width="1.35" />
<text x="40.79" y="295.00" font-size="10.59" fill="#1c1c1c"><tspan font-style="italic">r</tspan> = −0.3446</text>
<text x="40.69" y="308.00" font-size="10.21" fill="#1c1c1c"><tspan font-style="italic">P</tspan> &lt; 0.0001</text>
<text x="174.86" y="183.07" font-size="15.6" font-weight="bold" fill="#000">E</text>
<text x="256.59" y="185.00" font-size="10.44" fill="#1c1c1c">TCGA</text>
<line x1="212.45" y1="189.80" x2="212.45" y2="311.95" stroke="#000" stroke-width="1.35" />
<line x1="212.45" y1="311.31" x2="322.20" y2="311.31" stroke="#000" stroke-width="1.35" />
<line x1="209.65" y1="190.45" x2="212.45" y2="190.45" stroke="#000" stroke-width="1.35" />
<text x="196.26" y="194.00" font-size="10.60" fill="#1c1c1c">20</text>
<line x1="209.65" y1="230.73" x2="212.45" y2="230.73" stroke="#000" stroke-width="1.35" />
<text x="196.26" y="235.00" font-size="10.60" fill="#1c1c1c">15</text>
<line x1="209.65" y1="271.02" x2="212.45" y2="271.02" stroke="#000" stroke-width="1.35" />
<text x="196.26" y="275.00" font-size="10.60" fill="#1c1c1c">10</text>
<line x1="209.65" y1="311.31" x2="212.45" y2="311.31" stroke="#000" stroke-width="1.35" />
<text x="202.19" y="315.00" font-size="10.60" fill="#1c1c1c">5</text>
<line x1="212.40" y1="311.31" x2="212.40" y2="314.50" stroke="#000" stroke-width="1.35" />
<text x="206.36" y="325.00" font-size="10.60" fill="#1c1c1c">12</text>
<line x1="234.26" y1="311.31" x2="234.26" y2="314.50" stroke="#000" stroke-width="1.35" />
<text x="228.11" y="325.00" font-size="10.60" fill="#1c1c1c">14</text>
<line x1="256.12" y1="311.31" x2="256.12" y2="314.50" stroke="#000" stroke-width="1.35" />
<text x="250.03" y="325.00" font-size="10.60" fill="#1c1c1c">16</text>
<line x1="277.98" y1="311.31" x2="277.98" y2="314.50" stroke="#000" stroke-width="1.35" />
<text x="271.88" y="325.00" font-size="10.60" fill="#1c1c1c">18</text>
<line x1="299.84" y1="311.31" x2="299.84" y2="314.50" stroke="#000" stroke-width="1.35" />
<text x="293.90" y="325.00" font-size="10.60" fill="#1c1c1c">20</text>
<line x1="321.70" y1="311.31" x2="321.70" y2="314.50" stroke="#000" stroke-width="1.35" />
<text x="315.82" y="325.00" font-size="10.60" fill="#1c1c1c">22</text>
<text x="225.90" y="340.00" font-size="10.24" fill="#1c1c1c">AXIN2 (log<tspan font-size="7.17" dy="2.05">2</tspan><tspan dy="-2.05">FPKM)</tspan></text>
<text transform="translate(185.29,309.46) rotate(-90)" font-size="10.72" fill="#1c1c1c">MIR100HG (log<tspan font-size="7.50" dy="2.14">2</tspan><tspan dy="-2.14">FPKM)</tspan></text>
<circle cx="253.08" cy="213.00" r="1.25" fill="#000" />
<circle cx="264.62" cy="211.16" r="1.25" fill="#000" />
<circle cx="266.93" cy="212.31" r="1.25" fill="#000" />
<circle cx="235.08" cy="224.54" r="1.25" fill="#000" />
<circle cx="259.31" cy="220.39" r="1.25" fill="#000" />
<circle cx="261.62" cy="222.23" r="1.25" fill="#000" />
<circle cx="266.23" cy="219.23" r="1.25" fill="#000" />
<circle cx="266.93" cy="224.54" r="1.25" fill="#000" />
<circle cx="270.85" cy="223.85" r="1.25" fill="#000" />
<circle cx="273.85" cy="224.54" r="1.25" fill="#000" />
<circle cx="277.77" cy="220.39" r="1.25" fill="#000" />
<circle cx="278.93" cy="223.85" r="1.25" fill="#000" />
<circle cx="258.16" cy="229.16" r="1.25" fill="#000" />
<circle cx="287.01" cy="223.85" r="1.25" fill="#000" />
<circle cx="288.16" cy="227.31" r="1.25" fill="#000" />
<circle cx="299.70" cy="222.69" r="1.25" fill="#000" />
<circle cx="281.24" cy="229.62" r="1.25" fill="#000" />
<circle cx="284.70" cy="231.93" r="1.25" fill="#000" />
<circle cx="289.31" cy="229.62" r="1.25" fill="#000" />
<circle cx="292.78" cy="228.46" r="1.25" fill="#000" />
<circle cx="295.08" cy="230.77" r="1.25" fill="#000" />
<circle cx="298.55" cy="229.62" r="1.25" fill="#000" />
<circle cx="302.01" cy="229.16" r="1.25" fill="#000" />
<circle cx="304.31" cy="231.93" r="1.25" fill="#000" />
<circle cx="307.78" cy="230.77" r="1.25" fill="#000" />
<circle cx="313.08" cy="231.46" r="1.25" fill="#000" />
<circle cx="277.77" cy="234.23" r="1.25" fill="#000" />
<circle cx="281.24" cy="235.39" r="1.25" fill="#000" />
<circle cx="283.54" cy="236.54" r="1.25" fill="#000" />
<circle cx="287.01" cy="234.70" r="1.25" fill="#000" />
<circle cx="290.47" cy="234.23" r="1.25" fill="#000" />
<circle cx="293.93" cy="236.08" r="1.25" fill="#000" />
<circle cx="296.24" cy="233.77" r="1.25" fill="#000" />
<circle cx="299.70" cy="235.39" r="1.25" fill="#000" />
<circle cx="303.16" cy="234.70" r="1.25" fill="#000" />
<circle cx="306.62" cy="236.54" r="1.25" fill="#000" />
<circle cx="310.08" cy="235.39" r="1.25" fill="#000" />
<circle cx="313.08" cy="234.23" r="1.25" fill="#000" />
<circle cx="272.00" cy="240.00" r="1.25" fill="#000" />
<circle cx="280.08" cy="238.85" r="1.25" fill="#000" />
<circle cx="282.39" cy="241.16" r="1.25" fill="#000" />
<circle cx="285.85" cy="240.00" r="1.25" fill="#000" />
<circle cx="289.31" cy="238.85" r="1.25" fill="#000" />
<circle cx="291.62" cy="241.16" r="1.25" fill="#000" />
<circle cx="295.08" cy="239.31" r="1.25" fill="#000" />
<circle cx="298.55" cy="240.70" r="1.25" fill="#000" />
<circle cx="302.01" cy="238.85" r="1.25" fill="#000" />
<circle cx="304.31" cy="241.16" r="1.25" fill="#000" />
<circle cx="307.78" cy="240.00" r="1.25" fill="#000" />
<circle cx="311.24" cy="238.85" r="1.25" fill="#000" />
<circle cx="267.39" cy="244.62" r="1.25" fill="#000" />
<circle cx="273.16" cy="244.62" r="1.25" fill="#000" />
<circle cx="278.93" cy="243.47" r="1.25" fill="#000" />
<circle cx="281.24" cy="245.77" r="1.25" fill="#000" />
<circle cx="284.70" cy="244.62" r="1.25" fill="#000" />
<circle cx="288.16" cy="243.47" r="1.25" fill="#000" />
<circle cx="291.62" cy="245.31" r="1.25" fill="#000" />
<circle cx="295.08" cy="243.93" r="1.25" fill="#000" />
<circle cx="297.39" cy="245.77" r="1.25" fill="#000" />
<circle cx="300.85" cy="244.62" r="1.25" fill="#000" />
<circle cx="304.31" cy="246.23" r="1.25" fill="#000" />
<circle cx="307.78" cy="244.62" r="1.25" fill="#000" />
<circle cx="311.24" cy="245.77" r="1.25" fill="#000" />
<circle cx="266.23" cy="250.39" r="1.25" fill="#000" />
<circle cx="271.54" cy="249.93" r="1.25" fill="#000" />
<circle cx="280.08" cy="249.23" r="1.25" fill="#000" />
<circle cx="283.54" cy="250.39" r="1.25" fill="#000" />
<circle cx="287.01" cy="248.54" r="1.25" fill="#000" />
<circle cx="290.47" cy="250.39" r="1.25" fill="#000" />
<circle cx="293.93" cy="249.23" r="1.25" fill="#000" />
<circle cx="296.93" cy="250.39" r="1.25" fill="#000" />
<circle cx="299.70" cy="248.54" r="1.25" fill="#000" />
<circle cx="303.16" cy="250.39" r="1.25" fill="#000" />
<circle cx="306.62" cy="249.23" r="1.25" fill="#000" />
<circle cx="310.08" cy="250.39" r="1.25" fill="#000" />
<circle cx="313.55" cy="249.93" r="1.25" fill="#000" />
<circle cx="269.70" cy="254.54" r="1.25" fill="#000" />
<circle cx="278.93" cy="255.47" r="1.25" fill="#000" />
<circle cx="282.39" cy="253.85" r="1.25" fill="#000" />
<circle cx="289.31" cy="254.54" r="1.25" fill="#000" />
<circle cx="292.78" cy="255.47" r="1.25" fill="#000" />
<circle cx="296.24" cy="253.85" r="1.25" fill="#000" />
<circle cx="299.70" cy="255.47" r="1.25" fill="#000" />
<circle cx="303.16" cy="254.54" r="1.25" fill="#000" />
<circle cx="307.08" cy="256.16" r="1.25" fill="#000" />
<circle cx="311.24" cy="254.54" r="1.25" fill="#000" />
<circle cx="313.55" cy="256.85" r="1.25" fill="#000" />
<circle cx="281.24" cy="258.47" r="1.25" fill="#000" />
<circle cx="290.47" cy="260.08" r="1.25" fill="#000" />
<circle cx="293.93" cy="259.16" r="1.25" fill="#000" />
<circle cx="297.39" cy="260.77" r="1.25" fill="#000" />
<circle cx="302.01" cy="259.62" r="1.25" fill="#000" />
<circle cx="306.62" cy="258.47" r="1.25" fill="#000" />
<circle cx="283.54" cy="263.08" r="1.25" fill="#000" />
<circle cx="292.78" cy="264.24" r="1.25" fill="#000" />
<circle cx="296.24" cy="263.08" r="1.25" fill="#000" />
<circle cx="300.85" cy="265.39" r="1.25" fill="#000" />
<circle cx="304.31" cy="263.77" r="1.25" fill="#000" />
<circle cx="281.24" cy="268.85" r="1.25" fill="#000" />
<circle cx="288.16" cy="270.01" r="1.25" fill="#000" />
<circle cx="295.08" cy="268.39" r="1.25" fill="#000" />
<circle cx="299.24" cy="270.01" r="1.25" fill="#000" />
<circle cx="301.55" cy="271.16" r="1.25" fill="#000" />
<circle cx="307.78" cy="272.31" r="1.25" fill="#000" />
<circle cx="290.47" cy="274.62" r="1.25" fill="#000" />
<circle cx="303.16" cy="279.24" r="1.25" fill="#000" />
<circle cx="299.70" cy="284.55" r="1.25" fill="#000" />
<circle cx="287.53" cy="245.00" r="1.25" fill="#000" />
<circle cx="307.64" cy="256.81" r="1.25" fill="#000" />
<circle cx="306.63" cy="243.43" r="1.25" fill="#000" />
<circle cx="298.97" cy="240.80" r="1.25" fill="#000" />
<circle cx="284.25" cy="238.83" r="1.25" fill="#000" />
<circle cx="304.50" cy="245.23" r="1.25" fill="#000" />
<circle cx="293.16" cy="233.55" r="1.25" fill="#000" />
<circle cx="295.18" cy="237.80" r="1.25" fill="#000" />
<circle cx="296.33" cy="247.35" r="1.25" fill="#000" />
<circle cx="282.91" cy="234.65" r="1.25" fill="#000" />
<circle cx="284.90" cy="252.95" r="1.25" fill="#000" />
<circle cx="301.99" cy="247.45" r="1.25" fill="#000" />
<circle cx="289.37" cy="230.13" r="1.25" fill="#000" />
<circle cx="292.60" cy="244.82" r="1.25" fill="#000" />
<circle cx="295.35" cy="249.14" r="1.25" fill="#000" />
<circle cx="292.81" cy="259.08" r="1.25" fill="#000" />
<circle cx="301.86" cy="260.83" r="1.25" fill="#000" />
<circle cx="298.19" cy="240.92" r="1.25" fill="#000" />
<circle cx="288.42" cy="250.22" r="1.25" fill="#000" />
<circle cx="305.36" cy="244.39" r="1.25" fill="#000" />
<circle cx="299.65" cy="240.57" r="1.25" fill="#000" />
<circle cx="292.25" cy="240.38" r="1.25" fill="#000" />
<circle cx="296.34" cy="244.11" r="1.25" fill="#000" />
<circle cx="305.70" cy="248.62" r="1.25" fill="#000" />
<circle cx="299.77" cy="243.42" r="1.25" fill="#000" />
<circle cx="288.05" cy="247.36" r="1.25" fill="#000" />
<circle cx="293.43" cy="239.95" r="1.25" fill="#000" />
<circle cx="291.14" cy="240.34" r="1.25" fill="#000" />
<circle cx="306.80" cy="246.82" r="1.25" fill="#000" />
<circle cx="291.98" cy="239.83" r="1.25" fill="#000" />
<circle cx="300.58" cy="242.94" r="1.25" fill="#000" />
<circle cx="297.03" cy="255.33" r="1.25" fill="#000" />
<circle cx="304.28" cy="245.29" r="1.25" fill="#000" />
<circle cx="290.48" cy="232.32" r="1.25" fill="#000" />
<circle cx="296.59" cy="239.21" r="1.25" fill="#000" />
<circle cx="285.69" cy="257.73" r="1.25" fill="#000" />
<circle cx="287.49" cy="238.03" r="1.25" fill="#000" />
<circle cx="294.45" cy="242.22" r="1.25" fill="#000" />
<circle cx="298.45" cy="235.35" r="1.25" fill="#000" />
<circle cx="290.30" cy="245.53" r="1.25" fill="#000" />
<circle cx="288.51" cy="245.75" r="1.25" fill="#000" />
<circle cx="306.76" cy="249.72" r="1.25" fill="#000" />
<circle cx="308.57" cy="252.51" r="1.25" fill="#000" />
<circle cx="311.48" cy="245.49" r="1.25" fill="#000" />
<circle cx="299.73" cy="233.13" r="1.25" fill="#000" />
<circle cx="294.29" cy="236.42" r="1.25" fill="#000" />
<circle cx="295.26" cy="233.56" r="1.25" fill="#000" />
<circle cx="288.94" cy="248.07" r="1.25" fill="#000" />
<circle cx="301.50" cy="236.34" r="1.25" fill="#000" />
<circle cx="293.27" cy="238.21" r="1.25" fill="#000" />
<circle cx="299.85" cy="237.20" r="1.25" fill="#000" />
<circle cx="308.25" cy="241.93" r="1.25" fill="#000" />
<circle cx="299.18" cy="243.24" r="1.25" fill="#000" />
<circle cx="298.30" cy="251.63" r="1.25" fill="#000" />
<circle cx="292.97" cy="246.92" r="1.25" fill="#000" />
<circle cx="291.47" cy="241.14" r="1.25" fill="#000" />
<circle cx="305.81" cy="248.94" r="1.25" fill="#000" />
<circle cx="294.90" cy="239.87" r="1.25" fill="#000" />
<circle cx="282.61" cy="247.22" r="1.25" fill="#000" />
<circle cx="296.79" cy="234.19" r="1.25" fill="#000" />
<circle cx="300.16" cy="239.43" r="1.25" fill="#000" />
<circle cx="303.67" cy="235.82" r="1.25" fill="#000" />
<circle cx="298.30" cy="244.66" r="1.25" fill="#000" />
<circle cx="290.54" cy="242.00" r="1.25" fill="#000" />
<circle cx="293.41" cy="240.25" r="1.25" fill="#000" />
<circle cx="297.20" cy="236.73" r="1.25" fill="#000" />
<circle cx="301.58" cy="243.46" r="1.25" fill="#000" />
<circle cx="284.90" cy="246.10" r="1.25" fill="#000" />
<circle cx="291.76" cy="246.58" r="1.25" fill="#000" />
<circle cx="304.65" cy="235.75" r="1.25" fill="#000" />
<circle cx="284.95" cy="241.36" r="1.25" fill="#000" />
<circle cx="298.79" cy="241.22" r="1.25" fill="#000" />
<circle cx="288.98" cy="234.21" r="1.25" fill="#000" />
<circle cx="291.50" cy="256.74" r="1.25" fill="#000" />
<circle cx="295.23" cy="238.87" r="1.25" fill="#000" />
<line x1="236.30" y1="221.30" x2="306.00" y2="251.50" stroke="#000" stroke-width="1.35" />
<text x="217.78" y="279.00" font-size="10.93" fill="#1c1c1c"><tspan font-style="italic">r</tspan> = -0.4211</text>
<text x="217.29" y="290.00" font-size="10.29" fill="#1c1c1c"><tspan font-style="italic">P</tspan> &lt; 0.0001</text>
<text x="355.11" y="182.87" font-size="15.6" font-weight="bold" fill="#000">F</text>
<text x="469.74" y="196.00" font-size="10.74" fill="#1c1c1c">RKO</text>
<line x1="451.70" y1="198.50" x2="506.20" y2="198.50" stroke="#000" stroke-width="1.2" />
<text x="451.36" y="208.00" font-size="10.70" fill="#1c1c1c">Vector</text>
<text x="485.38" y="208.00" font-size="10.80" fill="#1c1c1c">β-cat</text>
<text x="402.36" y="223.00" font-size="10.62" fill="#1c1c1c">β-Catenin</text>
<text x="415.55" y="238.00" font-size="10.73" fill="#1c1c1c">β-Actin</text>
<rect x="450.90" y="211.60" width="58.90" height="13.40" fill="#989898" stroke="#151515" stroke-width="1.3" rx="1"/>
<rect x="450.90" y="229.60" width="58.90" height="13.50" fill="#989898" stroke="#151515" stroke-width="1.3" rx="1"/>
<rect x="481.80" y="216.80" width="22.00" height="4.00" rx="2.00" fill="#0a0a0a" filter="url(#b1)"/>
<rect x="455.60" y="234.30" width="22.60" height="4.00" rx="2.00" fill="#0a0a0a" filter="url(#b1)"/>
<rect x="482.20" y="233.90" width="21.60" height="5.00" rx="2.50" fill="#050505" filter="url(#b1)"/>
<text x="355.31" y="261.17" font-size="15.6" font-weight="bold" fill="#000">G</text>
<text x="444.69" y="265.00" font-size="10.71" fill="#1c1c1c">Vector</text>
<text x="484.88" y="266.00" font-size="10.80" fill="#1c1c1c">β-cat</text>
<line x1="444.20" y1="269.10" x2="476.00" y2="269.10" stroke="#000" stroke-width="1.3" />
<line x1="482.40" y1="269.10" x2="513.50" y2="269.10" stroke="#000" stroke-width="1.3" />
<rect x="441.70" y="273.30" width="73.60" height="12.90" fill="#2e2e2e" stroke="#0a0a0a" stroke-width="1.2" />
<text x="369.94" y="285.00" font-size="10.89" fill="#1c1c1c">pri-MIR100HG</text>
<rect x="445.50" y="277.00" width="13.50" height="4.20" rx="2.10" fill="#f8f8f8" filter="url(#b2)"/>
<rect x="463.20" y="277.00" width="14.20" height="4.20" rx="2.10" fill="#f8f8f8" filter="url(#b2)"/>
<rect x="441.70" y="289.50" width="73.60" height="13.20" fill="#363636" stroke="#0a0a0a" stroke-width="1.2" />
<text x="385.22" y="300.00" font-size="10.97" fill="#1c1c1c">MIR100HG</text>
<rect x="444.30" y="294.30" width="13.60" height="4.20" rx="2.10" fill="#f8f8f8" filter="url(#b2)"/>
<rect x="461.60" y="294.30" width="14.30" height="4.20" rx="2.10" fill="#f8f8f8" filter="url(#b2)"/>
<rect x="441.70" y="306.80" width="73.60" height="13.20" fill="#2e2e2e" stroke="#0a0a0a" stroke-width="1.2" />
<text x="401.66" y="317.00" font-size="10.82" fill="#1c1c1c">GAPDH</text>
<rect x="446.30" y="311.10" width="14.20" height="4.80" rx="2.40" fill="#f8f8f8" filter="url(#b2)"/>
<rect x="463.20" y="311.10" width="14.70" height="4.80" rx="2.40" fill="#f8f8f8" filter="url(#b2)"/>
<rect x="481.30" y="310.90" width="14.60" height="4.80" rx="2.40" fill="#f8f8f8" filter="url(#b2)"/>
<rect x="499.30" y="310.60" width="14.30" height="4.80" rx="2.40" fill="#f8f8f8" filter="url(#b2)"/>
<text x="0.56" y="372.37" font-size="15.6" font-weight="bold" fill="#000">H</text>
<line x1="46.45" y1="368.84" x2="46.45" y2="522.75" stroke="#000" stroke-width="1.35" />
<line x1="46.45" y1="522.10" x2="183.10" y2="522.10" stroke="#000" stroke-width="1.35" />
<line x1="43.85" y1="369.49" x2="46.45" y2="369.49" stroke="#000" stroke-width="1.35" />
<text x="35.39" y="373.00" font-size="10.60" fill="#1c1c1c">3</text>
<line x1="43.85" y1="420.36" x2="46.45" y2="420.36" stroke="#000" stroke-width="1.35" />
<text x="35.39" y="424.00" font-size="10.60" fill="#1c1c1c">2</text>
<line x1="43.85" y1="471.23" x2="46.45" y2="471.23" stroke="#000" stroke-width="1.35" />
<text x="35.39" y="475.00" font-size="10.60" fill="#1c1c1c">1</text>
<line x1="43.85" y1="522.10" x2="46.45" y2="522.10" stroke="#000" stroke-width="1.35" />
<text x="35.29" y="526.00" font-size="10.60" fill="#1c1c1c">0</text>
<text transform="translate(24.35,492.80) rotate(-90)" font-size="11.19" fill="#1c1c1c">Relative expression</text>
<text x="45.82" y="534.00" font-size="11.17" fill="#1c1c1c">pri-MIR100HG</text>
<text x="131.15" y="534.00" font-size="10.58" fill="#1c1c1c">MIR100HG</text>
<rect x="57.00" y="370.40" width="10.30" height="10.30" fill="#fff" stroke="#888" stroke-width="1.2" />
<rect x="57.00" y="387.20" width="10.30" height="10.30" fill="#d2d2d2" stroke="#888" stroke-width="1.2" />
<rect x="57.00" y="405.60" width="10.30" height="10.30" fill="#000" stroke="#000" stroke-width="1.2" />
<text x="72.29" y="380.00" font-size="10.73" fill="#1c1c1c">Vehicle</text>
<text x="71.53" y="396.00" font-size="10.90" fill="#1c1c1c">LF3</text>
<text x="71.51" y="415.00" font-size="11.07" fill="#1c1c1c">PKF118-310</text>
<rect x="53.80" y="473.50" width="11.40" height="48.60" fill="#fff" stroke="#888" stroke-width="1.2" />
<line x1="59.50" y1="468.30" x2="59.50" y2="477.50" stroke="#777" stroke-width="1.1" />
<line x1="56.30" y1="468.30" x2="62.70" y2="468.30" stroke="#777" stroke-width="1.2" />
<line x1="56.30" y1="477.50" x2="62.70" y2="477.50" stroke="#777" stroke-width="1.2" />
<rect x="73.10" y="454.80" width="11.60" height="67.30" fill="#d2d2d2" stroke="#888" stroke-width="1.2" />
<line x1="78.90" y1="448.65" x2="78.90" y2="460.20" stroke="#777" stroke-width="1.1" />
<line x1="75.70" y1="448.65" x2="82.10" y2="448.65" stroke="#777" stroke-width="1.2" />
<line x1="75.70" y1="460.20" x2="82.10" y2="460.20" stroke="#777" stroke-width="1.2" />
<rect x="93.00" y="452.10" width="10.80" height="70.00" fill="#000" stroke="#000" stroke-width="1.2" />
<line x1="98.40" y1="451.00" x2="98.40" y2="452.60" stroke="#888" stroke-width="1.1" />
<line x1="95.80" y1="451.00" x2="101.00" y2="451.00" stroke="#888" stroke-width="1.2" />
<line x1="95.80" y1="452.60" x2="101.00" y2="452.60" stroke="#888" stroke-width="1.2" />
<rect x="124.80" y="472.70" width="12.20" height="49.40" fill="#fff" stroke="#888" stroke-width="1.2" />
<line x1="130.90" y1="471.00" x2="130.90" y2="474.20" stroke="#777" stroke-width="1.1" />
<line x1="128.30" y1="471.00" x2="133.50" y2="471.00" stroke="#777" stroke-width="1.2" />
<line x1="128.30" y1="474.20" x2="133.50" y2="474.20" stroke="#777" stroke-width="1.2" />
<rect x="144.60" y="440.80" width="11.60" height="81.30" fill="#d2d2d2" stroke="#888" stroke-width="1.2" />
<line x1="150.40" y1="434.90" x2="150.40" y2="446.00" stroke="#777" stroke-width="1.1" />
<line x1="147.20" y1="434.90" x2="153.60" y2="434.90" stroke="#777" stroke-width="1.2" />
<line x1="147.20" y1="446.00" x2="153.60" y2="446.00" stroke="#777" stroke-width="1.2" />
<rect x="164.10" y="408.20" width="11.70" height="113.90" fill="#000" stroke="#000" stroke-width="1.2" />
<line x1="169.90" y1="391.30" x2="169.90" y2="423.70" stroke="#888" stroke-width="1.1" />
<line x1="166.70" y1="391.30" x2="173.10" y2="391.30" stroke="#888" stroke-width="1.2" />
<line x1="166.70" y1="423.70" x2="173.10" y2="423.70" stroke="#888" stroke-width="1.2" />
<polyline points="59.50,447.60 59.50,444.40 78.80,444.40 78.80,447.60" fill="none" stroke="#000" stroke-width="1.3"/>
<text x="69.00" y="447.80" font-size="14.6" font-weight="bold" letter-spacing="1.0" text-anchor="middle" fill="#000">*</text>
<polyline points="59.50,438.60 59.50,435.75 98.75,435.75 98.75,438.60" fill="none" stroke="#000" stroke-width="1.3"/>
<text x="79.30" y="437.80" font-size="14.6" font-weight="bold" letter-spacing="1.0" text-anchor="middle" fill="#000">**</text>
<polyline points="130.40,434.10 130.40,430.80 150.60,430.80 150.60,434.10" fill="none" stroke="#000" stroke-width="1.3"/>
<text x="140.60" y="433.50" font-size="14.6" font-weight="bold" letter-spacing="1.0" text-anchor="middle" fill="#000">***</text>
<polyline points="130.40,390.40 130.40,387.00 169.60,387.00 169.60,390.40" fill="none" stroke="#000" stroke-width="1.3"/>
<text x="150.70" y="389.90" font-size="14.6" font-weight="bold" letter-spacing="1.0" text-anchor="middle" fill="#000">*</text>
<text x="236.80" y="372.37" font-size="15.6" font-weight="bold" fill="#000">I</text>
<text x="370.27" y="381.00" font-size="11.13" fill="#1c1c1c">si-β-cat</text>
<line x1="369.10" y1="383.20" x2="409.40" y2="383.20" stroke="#000" stroke-width="1.2" />
<text x="328.47" y="394.00" font-size="11.11" fill="#1c1c1c">si-NC</text>
<text x="368.77" y="394.00" font-size="10.90" fill="#1c1c1c">#1</text>
<text x="396.92" y="394.00" font-size="10.90" fill="#1c1c1c">#2</text>
<text x="274.14" y="413.00" font-size="10.81" fill="#1c1c1c">β-Catenin</text>
<text x="287.46" y="434.00" font-size="10.63" fill="#1c1c1c">β-Actin</text>
<rect x="323.40" y="399.00" width="93.20" height="18.80" fill="#989898" stroke="#222" stroke-width="1.2" />
<rect x="323.40" y="422.40" width="93.20" height="19.20" fill="#989898" stroke="#222" stroke-width="1.2" />
<rect x="330.80" y="407.20" width="26.50" height="4.60" rx="2.30" fill="#0a0a0a" filter="url(#b1)"/>
<rect x="362.00" y="408.40" width="19.00" height="2.40" rx="1.20" fill="#151515" filter="url(#b1)"/>
<rect x="389.00" y="407.20" width="18.80" height="2.40" rx="1.20" fill="#151515" filter="url(#b1)"/>
<rect x="329.00" y="430.55" width="24.50" height="3.30" rx="1.65" fill="#101010" filter="url(#b1)"/>
<rect x="359.60" y="430.40" width="21.40" height="3.60" rx="1.80" fill="#101010" filter="url(#b1)"/>
<rect x="386.50" y="429.70" width="22.70" height="3.80" rx="1.90" fill="#0a0a0a" filter="url(#b1)"/>
<text x="236.59" y="462.37" font-size="15.6" font-weight="bold" fill="#000">J</text>
<text x="394.73" y="465.00" font-size="10.81" fill="#1c1c1c">si-β-cat</text>
<line x1="373.50" y1="468.20" x2="451.50" y2="468.20" stroke="#000" stroke-width="1.2" />
<text x="331.87" y="480.00" font-size="10.91" fill="#1c1c1c">si-NC</text>
<line x1="328.75" y1="481.90" x2="362.25" y2="481.90" stroke="#000" stroke-width="1.2" />
<text x="382.82" y="480.00" font-size="10.90" fill="#1c1c1c">#1</text>
<line x1="373.10" y1="481.90" x2="405.25" y2="481.90" stroke="#000" stroke-width="1.2" />
<text x="428.72" y="480.00" font-size="10.90" fill="#1c1c1c">#2</text>
<line x1="418.50" y1="481.90" x2="451.25" y2="481.90" stroke="#000" stroke-width="1.2" />
<rect x="321.90" y="485.30" width="136.30" height="12.00" fill="#050505" stroke="#000" stroke-width="0.8" />
<text x="249.43" y="496.00" font-size="10.97" fill="#1c1c1c">pri-MIR100HG</text>
<ellipse cx="375.35" cy="491.10" rx="4.3" ry="1.7" fill="#f8f8f8" filter="url(#b2)"/>
<ellipse cx="390.30" cy="491.10" rx="4.5" ry="1.8" fill="#f8f8f8" filter="url(#b2)"/>
<ellipse cx="405.25" cy="491.10" rx="4.0" ry="1.7" fill="#f8f8f8" filter="url(#b2)"/>
<ellipse cx="420.20" cy="491.10" rx="4.0" ry="1.7" fill="#f8f8f8" filter="url(#b2)"/>
<ellipse cx="435.15" cy="491.10" rx="3.4" ry="1.5" fill="#f8f8f8" filter="url(#b2)"/>
<ellipse cx="450.10" cy="491.10" rx="4.0" ry="1.7" fill="#f8f8f8" filter="url(#b2)"/>
<rect x="321.90" y="500.80" width="136.30" height="12.20" fill="#050505" stroke="#000" stroke-width="0.8" />
<text x="265.22" y="510.00" font-size="10.97" fill="#1c1c1c">MIR100HG</text>
<ellipse cx="329.70" cy="506.90" rx="6.5" ry="2.6" fill="#404040" filter="url(#b1)"/>
<ellipse cx="345.45" cy="506.90" rx="4" ry="1.6" fill="#262626" filter="url(#b1)"/>
<ellipse cx="360.40" cy="506.90" rx="4" ry="1.6" fill="#262626" filter="url(#b1)"/>
<ellipse cx="375.35" cy="506.90" rx="5.0" ry="2.4" fill="#f8f8f8" filter="url(#b2)"/>
<ellipse cx="390.30" cy="506.90" rx="4.8" ry="2.3" fill="#f8f8f8" filter="url(#b2)"/>
<ellipse cx="405.25" cy="506.90" rx="4.3" ry="2.1" fill="#f8f8f8" filter="url(#b2)"/>
<ellipse cx="420.20" cy="506.90" rx="4.1" ry="2.0" fill="#f8f8f8" filter="url(#b2)"/>
<ellipse cx="435.15" cy="506.90" rx="3.7" ry="1.8" fill="#f8f8f8" filter="url(#b2)"/>
<ellipse cx="450.10" cy="506.90" rx="4.6" ry="2.2" fill="#f8f8f8" filter="url(#b2)"/>
<rect x="321.90" y="516.70" width="136.30" height="11.50" fill="#050505" stroke="#000" stroke-width="0.8" />
<text x="281.35" y="527.00" font-size="10.90" fill="#1c1c1c">GAPDH</text>
<ellipse cx="330.50" cy="522.40" rx="5.0" ry="2.3" fill="#f8f8f8" filter="url(#b2)"/>
<ellipse cx="345.45" cy="522.40" rx="5.0" ry="2.3" fill="#f8f8f8" filter="url(#b2)"/>
<ellipse cx="360.40" cy="522.40" rx="5.0" ry="2.3" fill="#f8f8f8" filter="url(#b2)"/>
<ellipse cx="375.35" cy="522.40" rx="5.0" ry="2.3" fill="#f8f8f8" filter="url(#b2)"/>
<ellipse cx="390.30" cy="522.40" rx="5.0" ry="2.3" fill="#f8f8f8" filter="url(#b2)"/>
<ellipse cx="405.25" cy="522.40" rx="5.0" ry="2.3" fill="#f8f8f8" filter="url(#b2)"/>
<ellipse cx="420.20" cy="522.40" rx="5.0" ry="2.3" fill="#f8f8f8" filter="url(#b2)"/>
<ellipse cx="435.15" cy="522.40" rx="5.0" ry="2.3" fill="#f8f8f8" filter="url(#b2)"/>
<ellipse cx="450.10" cy="522.40" rx="5.0" ry="2.3" fill="#f8f8f8" filter="url(#b2)"/>
</svg></body></html>
